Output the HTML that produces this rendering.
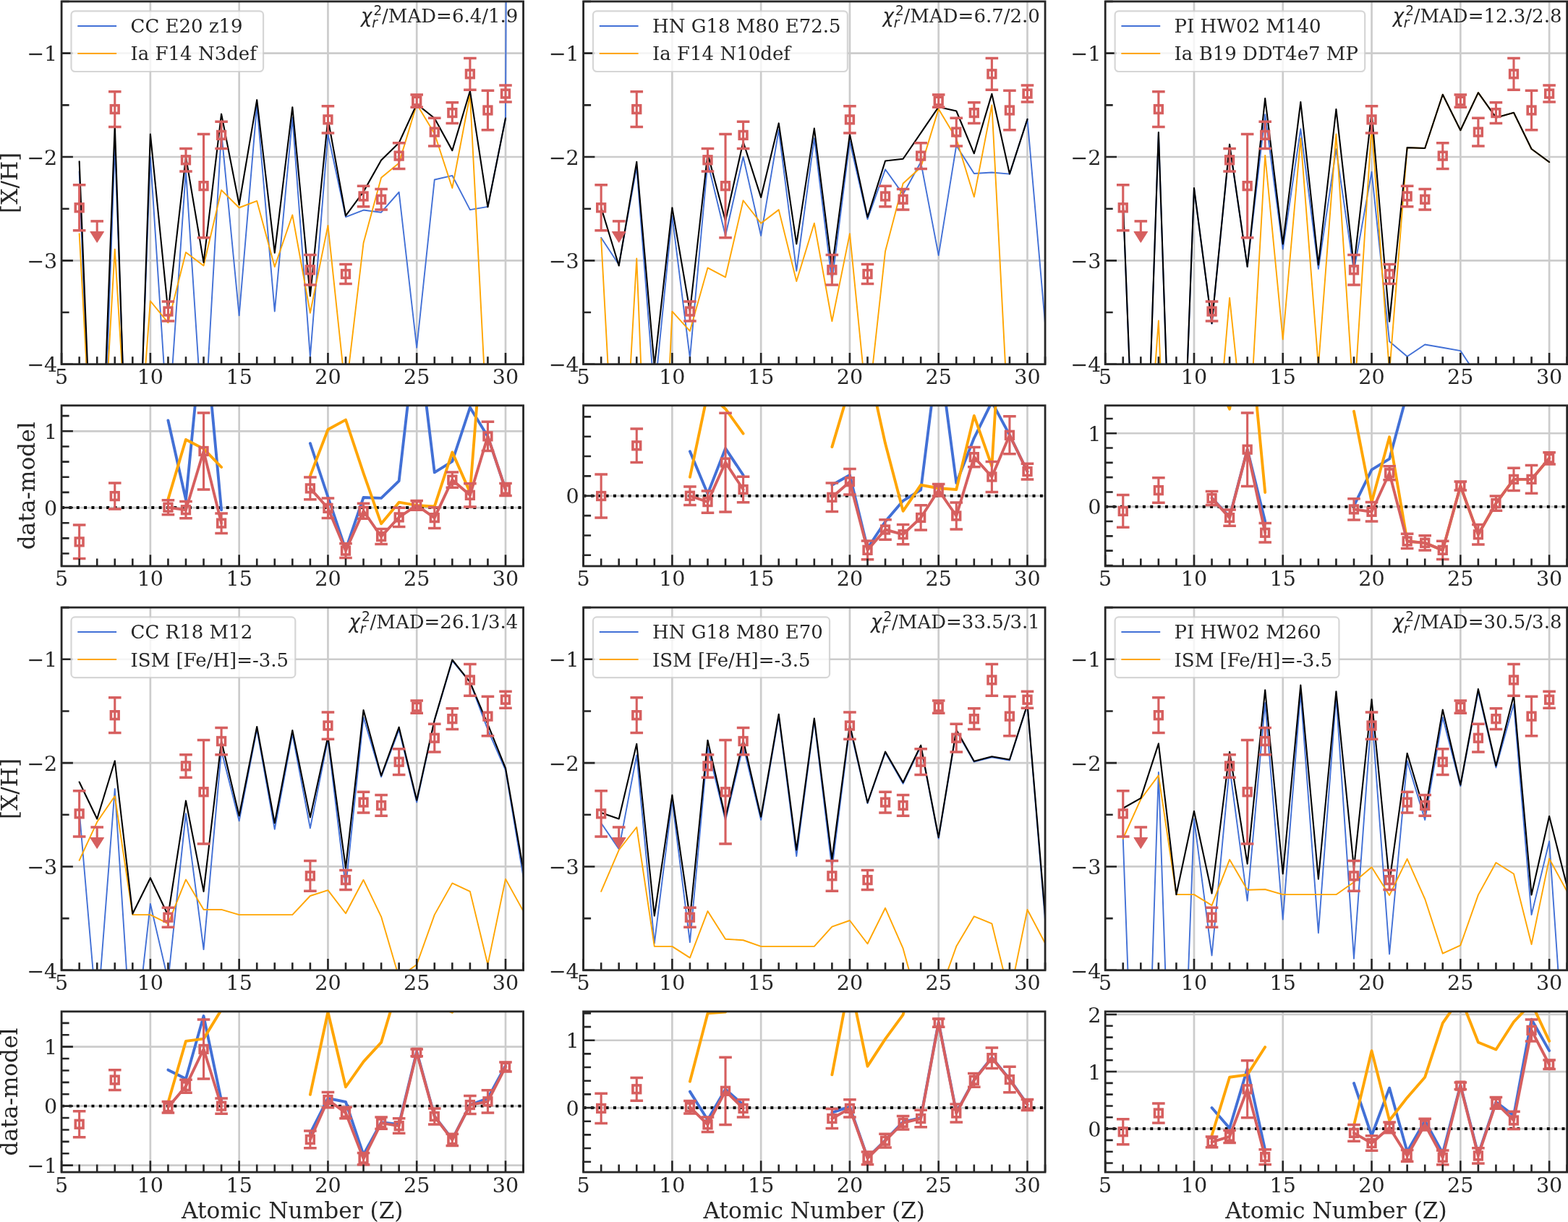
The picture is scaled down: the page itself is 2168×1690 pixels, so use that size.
<!DOCTYPE html>
<html><head><meta charset="utf-8"><title>Abundance fits</title><style>html,body{margin:0;padding:0;background:#fff;}svg{display:block;}</style></head><body>
<svg width="2168" height="1690" viewBox="0 0 2168 1690"><defs><clipPath id="c1"><rect x="85.1" y="2" width="638.46" height="501.7"/></clipPath><clipPath id="c2"><rect x="85.1" y="560.8" width="638.46" height="222.15"/></clipPath><clipPath id="c3"><rect x="806.6" y="2" width="638.46" height="501.7"/></clipPath><clipPath id="c4"><rect x="806.6" y="560.8" width="638.46" height="222.15"/></clipPath><clipPath id="c5"><rect x="1528.2" y="2" width="638.46" height="501.7"/></clipPath><clipPath id="c6"><rect x="1528.2" y="560.8" width="638.46" height="222.15"/></clipPath><clipPath id="c7"><rect x="85.1" y="840.1" width="638.46" height="501.7"/></clipPath><clipPath id="c8"><rect x="85.1" y="1398.9" width="638.46" height="222.15"/></clipPath><clipPath id="c9"><rect x="806.6" y="840.1" width="638.46" height="501.7"/></clipPath><clipPath id="c10"><rect x="806.6" y="1398.9" width="638.46" height="222.15"/></clipPath><clipPath id="c11"><rect x="1528.2" y="840.1" width="638.46" height="501.7"/></clipPath><clipPath id="c12"><rect x="1528.2" y="1398.9" width="638.46" height="222.15"/></clipPath></defs><rect width="2168" height="1690" fill="#fff"/><path d="M207.88 2V503.7M330.66 2V503.7M453.44 2V503.7M576.22 2V503.7M699 2V503.7M85.1 360.36H723.56M85.1 217.01H723.56M85.1 73.67H723.56" stroke="#cccccc" stroke-width="2.7" fill="none"/>
<path d="M109.66 237.08 L134.21 905.06 L158.77 200.53 L183.32 876.39 L207.88 217.01 L232.44 594.01 L256.99 236.22 L281.55 612.64 L306.1 182.61 L330.66 436.33 L355.22 145.34 L379.77 430.6 L404.33 162.54 L428.88 493.67 L453.44 185.48 L478 300.15 L502.55 290.55 L527.11 293.7 L551.66 265.75 L576.22 480.77 L600.78 248.55 L625.33 242.82 L649.89 290.12 L674.44 285.82 L699 163.55 L723.56 -5803.39" stroke="#4270d6" stroke-width="1.9" fill="none" stroke-linejoin="round" stroke-linecap="round" clip-path="url(#c1)"/>
<path d="M109.66 323.09 L134.21 774.62 L158.77 344.59 L183.32 747.38 L207.88 416.26 L232.44 446.36 L256.99 348.89 L281.55 367.52 L306.1 262.88 L330.66 287.25 L355.22 277.93 L379.77 368.96 L404.33 297.29 L428.88 432.75 L453.44 311.91 L478 543.55 L502.55 335.99 L527.11 245.68 L551.66 225.61 L576.22 143.91 L600.78 184.76 L625.33 260.02 L649.89 131.01 L674.44 608.34 L699 933.73" stroke="#ffa500" stroke-width="1.9" fill="none" stroke-linejoin="round" stroke-linecap="round" clip-path="url(#c1)"/>
<path d="M109.66 223.18 L134.21 833.39 L158.77 172.72 L183.32 919.39 L207.88 185.48 L232.44 431.03 L256.99 217.01 L281.55 362.94 L306.1 157.67 L330.66 282.95 L355.22 138.18 L379.77 349.61 L404.33 148.21 L428.88 409.38 L453.44 164.41 L478 298.29 L502.55 265.18 L527.11 221.6 L551.66 197.52 L576.22 143.91 L600.78 163.55 L625.33 208.13 L649.89 125.7 L674.44 286.25 L699 163.55" stroke="#000000" stroke-width="2.1" fill="none" stroke-linejoin="round" stroke-linecap="round" clip-path="url(#c1)"/>
<path d="M109.66 255.72V318.79" stroke="#d65f5f" stroke-width="3.1" fill="none" clip-path="url(#c1)"/>
<path d="M100.86 255.72h17.6M100.86 318.79h17.6" stroke="#d65f5f" stroke-width="3.5" fill="none" clip-path="url(#c1)"/>
<rect x="104.31" y="281.9" width="10.7" height="10.7" fill="none" stroke="#d65f5f" stroke-width="3.6" clip-path="url(#c1)"/>
<path d="M158.77 126.71V175.44" stroke="#d65f5f" stroke-width="3.1" fill="none" clip-path="url(#c1)"/>
<path d="M149.97 126.71h17.6M149.97 175.44h17.6" stroke="#d65f5f" stroke-width="3.5" fill="none" clip-path="url(#c1)"/>
<rect x="153.42" y="145.73" width="10.7" height="10.7" fill="none" stroke="#d65f5f" stroke-width="3.6" clip-path="url(#c1)"/>
<path d="M232.44 417.12V444.07" stroke="#d65f5f" stroke-width="3.1" fill="none" clip-path="url(#c1)"/>
<path d="M223.64 417.12h17.6M223.64 444.07h17.6" stroke="#d65f5f" stroke-width="3.5" fill="none" clip-path="url(#c1)"/>
<rect x="227.09" y="425.25" width="10.7" height="10.7" fill="none" stroke="#d65f5f" stroke-width="3.6" clip-path="url(#c1)"/>
<path d="M256.99 205.55V237.08" stroke="#d65f5f" stroke-width="3.1" fill="none" clip-path="url(#c1)"/>
<path d="M248.19 205.55h17.6M248.19 237.08h17.6" stroke="#d65f5f" stroke-width="3.5" fill="none" clip-path="url(#c1)"/>
<rect x="251.64" y="215.96" width="10.7" height="10.7" fill="none" stroke="#d65f5f" stroke-width="3.6" clip-path="url(#c1)"/>
<path d="M281.55 185.48V328.82" stroke="#d65f5f" stroke-width="3.1" fill="none" clip-path="url(#c1)"/>
<path d="M272.75 185.48h17.6M272.75 328.82h17.6" stroke="#d65f5f" stroke-width="3.5" fill="none" clip-path="url(#c1)"/>
<rect x="276.2" y="251.8" width="10.7" height="10.7" fill="none" stroke="#d65f5f" stroke-width="3.6" clip-path="url(#c1)"/>
<path d="M306.1 168.28V205.55" stroke="#d65f5f" stroke-width="3.1" fill="none" clip-path="url(#c1)"/>
<path d="M297.3 168.28h17.6M297.3 205.55h17.6" stroke="#d65f5f" stroke-width="3.5" fill="none" clip-path="url(#c1)"/>
<rect x="300.75" y="181.56" width="10.7" height="10.7" fill="none" stroke="#d65f5f" stroke-width="3.6" clip-path="url(#c1)"/>
<path d="M428.88 352.47V394.04" stroke="#d65f5f" stroke-width="3.1" fill="none" clip-path="url(#c1)"/>
<path d="M420.08 352.47h17.6M420.08 394.04h17.6" stroke="#d65f5f" stroke-width="3.5" fill="none" clip-path="url(#c1)"/>
<rect x="423.53" y="367.91" width="10.7" height="10.7" fill="none" stroke="#d65f5f" stroke-width="3.6" clip-path="url(#c1)"/>
<path d="M453.44 146.78V184.05" stroke="#d65f5f" stroke-width="3.1" fill="none" clip-path="url(#c1)"/>
<path d="M444.64 146.78h17.6M444.64 184.05h17.6" stroke="#d65f5f" stroke-width="3.5" fill="none" clip-path="url(#c1)"/>
<rect x="448.09" y="160.06" width="10.7" height="10.7" fill="none" stroke="#d65f5f" stroke-width="3.6" clip-path="url(#c1)"/>
<path d="M478 365.52V392.47" stroke="#d65f5f" stroke-width="3.1" fill="none" clip-path="url(#c1)"/>
<path d="M469.2 365.52h17.6M469.2 392.47h17.6" stroke="#d65f5f" stroke-width="3.5" fill="none" clip-path="url(#c1)"/>
<rect x="472.65" y="373.64" width="10.7" height="10.7" fill="none" stroke="#d65f5f" stroke-width="3.6" clip-path="url(#c1)"/>
<path d="M502.55 257.15V285.82" stroke="#d65f5f" stroke-width="3.1" fill="none" clip-path="url(#c1)"/>
<path d="M493.75 257.15h17.6M493.75 285.82h17.6" stroke="#d65f5f" stroke-width="3.5" fill="none" clip-path="url(#c1)"/>
<rect x="497.2" y="266.13" width="10.7" height="10.7" fill="none" stroke="#d65f5f" stroke-width="3.6" clip-path="url(#c1)"/>
<path d="M527.11 261.45V290.12" stroke="#d65f5f" stroke-width="3.1" fill="none" clip-path="url(#c1)"/>
<path d="M518.31 261.45h17.6M518.31 290.12h17.6" stroke="#d65f5f" stroke-width="3.5" fill="none" clip-path="url(#c1)"/>
<rect x="521.76" y="270.43" width="10.7" height="10.7" fill="none" stroke="#d65f5f" stroke-width="3.6" clip-path="url(#c1)"/>
<path d="M551.66 197.66V233.5" stroke="#d65f5f" stroke-width="3.1" fill="none" clip-path="url(#c1)"/>
<path d="M542.86 197.66h17.6M542.86 233.5h17.6" stroke="#d65f5f" stroke-width="3.5" fill="none" clip-path="url(#c1)"/>
<rect x="546.31" y="210.23" width="10.7" height="10.7" fill="none" stroke="#d65f5f" stroke-width="3.6" clip-path="url(#c1)"/>
<path d="M576.22 131.01V148.21" stroke="#d65f5f" stroke-width="3.1" fill="none" clip-path="url(#c1)"/>
<path d="M567.42 131.01h17.6M567.42 148.21h17.6" stroke="#d65f5f" stroke-width="3.5" fill="none" clip-path="url(#c1)"/>
<rect x="570.87" y="134.26" width="10.7" height="10.7" fill="none" stroke="#d65f5f" stroke-width="3.6" clip-path="url(#c1)"/>
<path d="M600.78 163.26V201.96" stroke="#d65f5f" stroke-width="3.1" fill="none" clip-path="url(#c1)"/>
<path d="M591.98 163.26h17.6M591.98 201.96h17.6" stroke="#d65f5f" stroke-width="3.5" fill="none" clip-path="url(#c1)"/>
<rect x="595.43" y="177.26" width="10.7" height="10.7" fill="none" stroke="#d65f5f" stroke-width="3.6" clip-path="url(#c1)"/>
<path d="M625.33 141.76V170.43" stroke="#d65f5f" stroke-width="3.1" fill="none" clip-path="url(#c1)"/>
<path d="M616.53 141.76h17.6M616.53 170.43h17.6" stroke="#d65f5f" stroke-width="3.5" fill="none" clip-path="url(#c1)"/>
<rect x="619.98" y="150.74" width="10.7" height="10.7" fill="none" stroke="#d65f5f" stroke-width="3.6" clip-path="url(#c1)"/>
<path d="M649.89 80.41V124.27" stroke="#d65f5f" stroke-width="3.1" fill="none" clip-path="url(#c1)"/>
<path d="M641.09 80.41h17.6M641.09 124.27h17.6" stroke="#d65f5f" stroke-width="3.5" fill="none" clip-path="url(#c1)"/>
<rect x="644.54" y="96.99" width="10.7" height="10.7" fill="none" stroke="#d65f5f" stroke-width="3.6" clip-path="url(#c1)"/>
<path d="M674.44 125.27V179.75" stroke="#d65f5f" stroke-width="3.1" fill="none" clip-path="url(#c1)"/>
<path d="M665.64 125.27h17.6M665.64 179.75h17.6" stroke="#d65f5f" stroke-width="3.5" fill="none" clip-path="url(#c1)"/>
<rect x="669.09" y="147.16" width="10.7" height="10.7" fill="none" stroke="#d65f5f" stroke-width="3.6" clip-path="url(#c1)"/>
<path d="M699 118.11V141.04" stroke="#d65f5f" stroke-width="3.1" fill="none" clip-path="url(#c1)"/>
<path d="M690.2 118.11h17.6M690.2 141.04h17.6" stroke="#d65f5f" stroke-width="3.5" fill="none" clip-path="url(#c1)"/>
<rect x="693.65" y="124.23" width="10.7" height="10.7" fill="none" stroke="#d65f5f" stroke-width="3.6" clip-path="url(#c1)"/>
<path d="M134.21 305.89V320.36" stroke="#d65f5f" stroke-width="3.1" fill="none"/>
<path d="M125.41 305.89h17.6" stroke="#d65f5f" stroke-width="3.5" fill="none"/>
<path d="M124.81 320.36L143.61 320.36L134.21 335.36Z" fill="#d65f5f" stroke="#d65f5f" stroke-width="1" stroke-linejoin="miter"/>
<path d="M85.1 503.7v-15.8M109.66 503.7v-10.5M134.21 503.7v-10.5M158.77 503.7v-10.5M183.32 503.7v-10.5M207.88 503.7v-15.8M232.44 503.7v-10.5M256.99 503.7v-10.5M281.55 503.7v-10.5M306.1 503.7v-10.5M330.66 503.7v-15.8M355.22 503.7v-10.5M379.77 503.7v-10.5M404.33 503.7v-10.5M428.88 503.7v-10.5M453.44 503.7v-15.8M478 503.7v-10.5M502.55 503.7v-10.5M527.11 503.7v-10.5M551.66 503.7v-10.5M576.22 503.7v-15.8M600.78 503.7v-10.5M625.33 503.7v-10.5M649.89 503.7v-10.5M674.44 503.7v-10.5M699 503.7v-15.8M723.56 503.7v-10.5M85.1 503.7h15.8M85.1 360.36h15.8M85.1 217.01h15.8M85.1 73.67h15.8M85.1 503.7h10.5M85.1 432.03h10.5M85.1 360.36h10.5M85.1 288.69h10.5M85.1 217.01h10.5M85.1 145.34h10.5M85.1 73.67h10.5M85.1 2h10.5" stroke="#262626" stroke-width="2.6" fill="none"/>
<rect x="85.1" y="2" width="638.46" height="501.7" fill="none" stroke="#262626" stroke-width="2.8"/>
<g font-family="'DejaVu Serif', serif" font-size="28.6" fill="#262626"><text x="85.1" y="531.2" text-anchor="middle">5</text><text x="207.88" y="531.2" text-anchor="middle">10</text><text x="330.66" y="531.2" text-anchor="middle">15</text><text x="453.44" y="531.2" text-anchor="middle">20</text><text x="576.22" y="531.2" text-anchor="middle">25</text><text x="699" y="531.2" text-anchor="middle">30</text><text x="79.3" y="514.4" text-anchor="end">−4</text><text x="79.3" y="371.06" text-anchor="end">−3</text><text x="79.3" y="227.71" text-anchor="end">−2</text><text x="79.3" y="84.37" text-anchor="end">−1</text></g>
<rect x="98.5" y="15.3" width="265.57" height="83.7" rx="5.2" ry="5.2" fill="#ffffff" fill-opacity="0.8" stroke="#cccccc" stroke-opacity="0.8" stroke-width="2.2"/>
<path d="M107.3 35.9H161.1" stroke="#4270d6" stroke-width="2.0"/>
<path d="M107.3 74H161.1" stroke="#ffa500" stroke-width="2.0"/>
<g font-family="'DejaVu Serif', serif" font-size="26.0" fill="#262626"><text x="180.5" y="45.2">CC E20 z19</text><text x="180.5" y="83.4">Ia F14 N3def</text></g>
<g fill="#262626">
<text x="499.11" y="30.6" font-family="'DejaVu Sans', sans-serif" font-style="italic" font-size="26">χ</text>
<text x="516.61" y="21.3" font-family="'DejaVu Sans', sans-serif" font-size="18.6">2</text>
<text x="514.31" y="37.5" font-family="'DejaVu Sans', sans-serif" font-style="italic" font-size="18.6">r</text>
<text x="528.11" y="30.6" font-family="'DejaVu Serif', serif" font-size="26">/MAD=6.4/1.9</text>
</g>
<path d="M207.88 560.8V782.95M330.66 560.8V782.95M453.44 560.8V782.95M576.22 560.8V782.95M699 560.8V782.95M85.1 702.06H723.56M85.1 596.29H723.56" stroke="#cccccc" stroke-width="2.7" fill="none"/>
<path d="M85.1 702.06H723.56" stroke="#000" stroke-width="3.9" stroke-dasharray="3.9 6.45" fill="none" clip-path="url(#c2)"/>
<path d="M232.44 581.48 L256.99 691.06 L281.55 439.74 L306.1 705.24" stroke="#4270d6" stroke-width="3.9" fill="none" stroke-linejoin="round" stroke-linecap="round" clip-path="url(#c2)"/>
<path d="M428.88 613.21 L453.44 687.25 L478 760.24 L502.55 688 L527.11 688.84 L551.66 665.04 L576.22 450.32 L600.78 653.41 L625.33 638.07 L649.89 563.5 L674.44 603.69 L699 676.99" stroke="#4270d6" stroke-width="3.9" fill="none" stroke-linejoin="round" stroke-linecap="round" clip-path="url(#c2)"/>
<path d="M232.44 690.43 L256.99 607.92 L281.55 620.62 L306.1 646" stroke="#ffa500" stroke-width="3.9" fill="none" stroke-linejoin="round" stroke-linecap="round" clip-path="url(#c2)"/>
<path d="M428.88 658.17 L453.44 593.96 L478 580.63 L502.55 654.46 L527.11 724.28 L551.66 694.66 L576.22 698.89 L600.78 700.48 L625.33 625.38 L649.89 680.91 L674.44 365.7 L699 108.66" stroke="#ffa500" stroke-width="3.9" fill="none" stroke-linejoin="round" stroke-linecap="round" clip-path="url(#c2)"/>
<path d="M232.44 701.75 L256.99 705.24 L281.55 624 L306.1 723.64" stroke="#d65f5f" stroke-width="3.9" fill="none" stroke-linejoin="round" stroke-linecap="round" clip-path="url(#c2)"/>
<path d="M428.88 675.41 L453.44 702.8 L478 761.62 L502.55 706.72 L527.11 742.05 L551.66 715.39 L576.22 698.89 L600.78 716.13 L625.33 663.67 L649.89 684.82 L674.44 603.37 L699 676.99" stroke="#d65f5f" stroke-width="3.9" fill="none" stroke-linejoin="round" stroke-linecap="round" clip-path="url(#c2)"/>
<path d="M109.66 726.07V772.62" stroke="#d65f5f" stroke-width="3.1" fill="none" clip-path="url(#c2)"/>
<path d="M100.86 726.07h17.6M100.86 772.62h17.6" stroke="#d65f5f" stroke-width="3.5" fill="none" clip-path="url(#c2)"/>
<rect x="104.31" y="744" width="10.7" height="10.7" fill="none" stroke="#d65f5f" stroke-width="3.6" clip-path="url(#c2)"/>
<path d="M158.77 668.11V704.07" stroke="#d65f5f" stroke-width="3.1" fill="none" clip-path="url(#c2)"/>
<path d="M149.97 668.11h17.6M149.97 704.07h17.6" stroke="#d65f5f" stroke-width="3.5" fill="none" clip-path="url(#c2)"/>
<rect x="153.42" y="680.74" width="10.7" height="10.7" fill="none" stroke="#d65f5f" stroke-width="3.6" clip-path="url(#c2)"/>
<path d="M232.44 691.8V711.69" stroke="#d65f5f" stroke-width="3.1" fill="none" clip-path="url(#c2)"/>
<path d="M223.64 691.8h17.6M223.64 711.69h17.6" stroke="#d65f5f" stroke-width="3.5" fill="none" clip-path="url(#c2)"/>
<rect x="227.09" y="696.4" width="10.7" height="10.7" fill="none" stroke="#d65f5f" stroke-width="3.6" clip-path="url(#c2)"/>
<path d="M256.99 693.6V716.87" stroke="#d65f5f" stroke-width="3.1" fill="none" clip-path="url(#c2)"/>
<path d="M248.19 693.6h17.6M248.19 716.87h17.6" stroke="#d65f5f" stroke-width="3.5" fill="none" clip-path="url(#c2)"/>
<rect x="251.64" y="699.89" width="10.7" height="10.7" fill="none" stroke="#d65f5f" stroke-width="3.6" clip-path="url(#c2)"/>
<path d="M281.55 571.11V676.89" stroke="#d65f5f" stroke-width="3.1" fill="none" clip-path="url(#c2)"/>
<path d="M272.75 571.11h17.6M272.75 676.89h17.6" stroke="#d65f5f" stroke-width="3.5" fill="none" clip-path="url(#c2)"/>
<rect x="276.2" y="618.65" width="10.7" height="10.7" fill="none" stroke="#d65f5f" stroke-width="3.6" clip-path="url(#c2)"/>
<path d="M306.1 709.89V737.39" stroke="#d65f5f" stroke-width="3.1" fill="none" clip-path="url(#c2)"/>
<path d="M297.3 709.89h17.6M297.3 737.39h17.6" stroke="#d65f5f" stroke-width="3.5" fill="none" clip-path="url(#c2)"/>
<rect x="300.75" y="718.29" width="10.7" height="10.7" fill="none" stroke="#d65f5f" stroke-width="3.6" clip-path="url(#c2)"/>
<path d="M428.88 660.07V690.75" stroke="#d65f5f" stroke-width="3.1" fill="none" clip-path="url(#c2)"/>
<path d="M420.08 660.07h17.6M420.08 690.75h17.6" stroke="#d65f5f" stroke-width="3.5" fill="none" clip-path="url(#c2)"/>
<rect x="423.53" y="670.06" width="10.7" height="10.7" fill="none" stroke="#d65f5f" stroke-width="3.6" clip-path="url(#c2)"/>
<path d="M453.44 689.05V716.55" stroke="#d65f5f" stroke-width="3.1" fill="none" clip-path="url(#c2)"/>
<path d="M444.64 689.05h17.6M444.64 716.55h17.6" stroke="#d65f5f" stroke-width="3.5" fill="none" clip-path="url(#c2)"/>
<rect x="448.09" y="697.45" width="10.7" height="10.7" fill="none" stroke="#d65f5f" stroke-width="3.6" clip-path="url(#c2)"/>
<path d="M478 751.67V771.56" stroke="#d65f5f" stroke-width="3.1" fill="none" clip-path="url(#c2)"/>
<path d="M469.2 751.67h17.6M469.2 771.56h17.6" stroke="#d65f5f" stroke-width="3.5" fill="none" clip-path="url(#c2)"/>
<rect x="472.65" y="756.27" width="10.7" height="10.7" fill="none" stroke="#d65f5f" stroke-width="3.6" clip-path="url(#c2)"/>
<path d="M502.55 696.14V717.3" stroke="#d65f5f" stroke-width="3.1" fill="none" clip-path="url(#c2)"/>
<path d="M493.75 696.14h17.6M493.75 717.3h17.6" stroke="#d65f5f" stroke-width="3.5" fill="none" clip-path="url(#c2)"/>
<rect x="497.2" y="701.37" width="10.7" height="10.7" fill="none" stroke="#d65f5f" stroke-width="3.6" clip-path="url(#c2)"/>
<path d="M527.11 731.47V752.62" stroke="#d65f5f" stroke-width="3.1" fill="none" clip-path="url(#c2)"/>
<path d="M518.31 731.47h17.6M518.31 752.62h17.6" stroke="#d65f5f" stroke-width="3.5" fill="none" clip-path="url(#c2)"/>
<rect x="521.76" y="736.7" width="10.7" height="10.7" fill="none" stroke="#d65f5f" stroke-width="3.6" clip-path="url(#c2)"/>
<path d="M551.66 702.17V728.61" stroke="#d65f5f" stroke-width="3.1" fill="none" clip-path="url(#c2)"/>
<path d="M542.86 702.17h17.6M542.86 728.61h17.6" stroke="#d65f5f" stroke-width="3.5" fill="none" clip-path="url(#c2)"/>
<rect x="546.31" y="710.04" width="10.7" height="10.7" fill="none" stroke="#d65f5f" stroke-width="3.6" clip-path="url(#c2)"/>
<path d="M576.22 692.54V705.24" stroke="#d65f5f" stroke-width="3.1" fill="none" clip-path="url(#c2)"/>
<path d="M567.42 692.54h17.6M567.42 705.24h17.6" stroke="#d65f5f" stroke-width="3.5" fill="none" clip-path="url(#c2)"/>
<rect x="570.87" y="693.54" width="10.7" height="10.7" fill="none" stroke="#d65f5f" stroke-width="3.6" clip-path="url(#c2)"/>
<path d="M600.78 701.85V730.41" stroke="#d65f5f" stroke-width="3.1" fill="none" clip-path="url(#c2)"/>
<path d="M591.98 701.85h17.6M591.98 730.41h17.6" stroke="#d65f5f" stroke-width="3.5" fill="none" clip-path="url(#c2)"/>
<rect x="595.43" y="710.78" width="10.7" height="10.7" fill="none" stroke="#d65f5f" stroke-width="3.6" clip-path="url(#c2)"/>
<path d="M625.33 653.09V674.24" stroke="#d65f5f" stroke-width="3.1" fill="none" clip-path="url(#c2)"/>
<path d="M616.53 653.09h17.6M616.53 674.24h17.6" stroke="#d65f5f" stroke-width="3.5" fill="none" clip-path="url(#c2)"/>
<rect x="619.98" y="658.32" width="10.7" height="10.7" fill="none" stroke="#d65f5f" stroke-width="3.6" clip-path="url(#c2)"/>
<path d="M649.89 668.64V701.01" stroke="#d65f5f" stroke-width="3.1" fill="none" clip-path="url(#c2)"/>
<path d="M641.09 668.64h17.6M641.09 701.01h17.6" stroke="#d65f5f" stroke-width="3.5" fill="none" clip-path="url(#c2)"/>
<rect x="644.54" y="679.47" width="10.7" height="10.7" fill="none" stroke="#d65f5f" stroke-width="3.6" clip-path="url(#c2)"/>
<path d="M674.44 583.28V623.47" stroke="#d65f5f" stroke-width="3.1" fill="none" clip-path="url(#c2)"/>
<path d="M665.64 583.28h17.6M665.64 623.47h17.6" stroke="#d65f5f" stroke-width="3.5" fill="none" clip-path="url(#c2)"/>
<rect x="669.09" y="598.02" width="10.7" height="10.7" fill="none" stroke="#d65f5f" stroke-width="3.6" clip-path="url(#c2)"/>
<path d="M699 668.53V685.46" stroke="#d65f5f" stroke-width="3.1" fill="none" clip-path="url(#c2)"/>
<path d="M690.2 668.53h17.6M690.2 685.46h17.6" stroke="#d65f5f" stroke-width="3.5" fill="none" clip-path="url(#c2)"/>
<rect x="693.65" y="671.64" width="10.7" height="10.7" fill="none" stroke="#d65f5f" stroke-width="3.6" clip-path="url(#c2)"/>
<path d="M85.1 782.95v-15.8M109.66 782.95v-10.5M134.21 782.95v-10.5M158.77 782.95v-10.5M183.32 782.95v-10.5M207.88 782.95v-15.8M232.44 782.95v-10.5M256.99 782.95v-10.5M281.55 782.95v-10.5M306.1 782.95v-10.5M330.66 782.95v-15.8M355.22 782.95v-10.5M379.77 782.95v-10.5M404.33 782.95v-10.5M428.88 782.95v-10.5M453.44 782.95v-15.8M478 782.95v-10.5M502.55 782.95v-10.5M527.11 782.95v-10.5M551.66 782.95v-10.5M576.22 782.95v-15.8M600.78 782.95v-10.5M625.33 782.95v-10.5M649.89 782.95v-10.5M674.44 782.95v-10.5M699 782.95v-15.8M723.56 782.95v-10.5M85.1 702.06h15.8M85.1 596.29h15.8M85.1 765.53h10.5M85.1 744.37h10.5M85.1 723.22h10.5M85.1 680.91h10.5M85.1 659.75h10.5M85.1 638.6h10.5M85.1 617.44h10.5M85.1 575.13h10.5" stroke="#262626" stroke-width="2.6" fill="none"/>
<rect x="85.1" y="560.8" width="638.46" height="222.15" fill="none" stroke="#262626" stroke-width="2.8"/>
<g font-family="'DejaVu Serif', serif" font-size="28.6" fill="#262626"><text x="85.1" y="810.45" text-anchor="middle">5</text><text x="207.88" y="810.45" text-anchor="middle">10</text><text x="330.66" y="810.45" text-anchor="middle">15</text><text x="453.44" y="810.45" text-anchor="middle">20</text><text x="576.22" y="810.45" text-anchor="middle">25</text><text x="699" y="810.45" text-anchor="middle">30</text><text x="79.3" y="712.76" text-anchor="end">0</text><text x="79.3" y="606.99" text-anchor="end">1</text></g>
<path d="M929.38 2V503.7M1052.16 2V503.7M1174.94 2V503.7M1297.72 2V503.7M1420.5 2V503.7M806.6 360.36H1445.06M806.6 217.01H1445.06M806.6 73.67H1445.06" stroke="#cccccc" stroke-width="2.7" fill="none"/>
<path d="M831.16 328.82 L855.71 366.09 L880.27 231.35 L904.82 546.7 L929.38 298.72 L953.94 495.1 L978.49 224.18 L1003.05 325.95 L1027.6 217.01 L1052.16 325.95 L1076.72 179.75 L1101.27 374.69 L1125.83 191.21 L1150.38 389.03 L1174.94 195.51 L1199.5 303.02 L1224.05 234.22 L1248.61 268.62 L1273.16 224.18 L1297.72 353.19 L1322.28 201.25 L1346.83 239.95 L1371.39 238.52 L1395.94 240.67 L1420.5 164.84 L1445.06 447.8" stroke="#4270d6" stroke-width="1.9" fill="none" stroke-linejoin="round" stroke-linecap="round" clip-path="url(#c3)"/>
<path d="M831.16 330.26 L855.71 786.09 L880.27 357.49 L904.82 966.7 L929.38 430.6 L953.94 457.83 L978.49 370.39 L1003.05 383.29 L1027.6 277.22 L1052.16 308.75 L1076.72 290.12 L1101.27 389.03 L1125.83 308.75 L1150.38 444.21 L1174.94 323.09 L1199.5 571.07 L1224.05 347.46 L1248.61 253.71 L1273.16 231.35 L1297.72 150.65 L1322.28 191.79 L1346.83 272.34 L1371.39 145.34 L1395.94 618.37 L1420.5 933.73" stroke="#ffa500" stroke-width="1.9" fill="none" stroke-linejoin="round" stroke-linecap="round" clip-path="url(#c3)"/>
<path d="M831.16 286.97 L855.71 367.52 L880.27 223.89 L904.82 506.57 L929.38 287.25 L953.94 430.6 L978.49 212.57 L1003.05 305.6 L1027.6 196.09 L1052.16 272.92 L1076.72 170.43 L1101.27 337.42 L1125.83 177.59 L1150.38 371.11 L1174.94 185.91 L1199.5 300.3 L1224.05 222.46 L1248.61 219.74 L1273.16 183.9 L1297.72 147.92 L1322.28 153.51 L1346.83 212.28 L1371.39 129.86 L1395.94 240.52 L1420.5 164.84" stroke="#000000" stroke-width="2.1" fill="none" stroke-linejoin="round" stroke-linecap="round" clip-path="url(#c3)"/>
<path d="M831.16 255.72V318.79" stroke="#d65f5f" stroke-width="3.1" fill="none" clip-path="url(#c3)"/>
<path d="M822.36 255.72h17.6M822.36 318.79h17.6" stroke="#d65f5f" stroke-width="3.5" fill="none" clip-path="url(#c3)"/>
<rect x="825.81" y="281.9" width="10.7" height="10.7" fill="none" stroke="#d65f5f" stroke-width="3.6" clip-path="url(#c3)"/>
<path d="M880.27 126.71V175.44" stroke="#d65f5f" stroke-width="3.1" fill="none" clip-path="url(#c3)"/>
<path d="M871.47 126.71h17.6M871.47 175.44h17.6" stroke="#d65f5f" stroke-width="3.5" fill="none" clip-path="url(#c3)"/>
<rect x="874.92" y="145.73" width="10.7" height="10.7" fill="none" stroke="#d65f5f" stroke-width="3.6" clip-path="url(#c3)"/>
<path d="M953.94 417.12V444.07" stroke="#d65f5f" stroke-width="3.1" fill="none" clip-path="url(#c3)"/>
<path d="M945.14 417.12h17.6M945.14 444.07h17.6" stroke="#d65f5f" stroke-width="3.5" fill="none" clip-path="url(#c3)"/>
<rect x="948.59" y="425.25" width="10.7" height="10.7" fill="none" stroke="#d65f5f" stroke-width="3.6" clip-path="url(#c3)"/>
<path d="M978.49 205.55V237.08" stroke="#d65f5f" stroke-width="3.1" fill="none" clip-path="url(#c3)"/>
<path d="M969.69 205.55h17.6M969.69 237.08h17.6" stroke="#d65f5f" stroke-width="3.5" fill="none" clip-path="url(#c3)"/>
<rect x="973.14" y="215.96" width="10.7" height="10.7" fill="none" stroke="#d65f5f" stroke-width="3.6" clip-path="url(#c3)"/>
<path d="M1003.05 185.48V328.82" stroke="#d65f5f" stroke-width="3.1" fill="none" clip-path="url(#c3)"/>
<path d="M994.25 185.48h17.6M994.25 328.82h17.6" stroke="#d65f5f" stroke-width="3.5" fill="none" clip-path="url(#c3)"/>
<rect x="997.7" y="251.8" width="10.7" height="10.7" fill="none" stroke="#d65f5f" stroke-width="3.6" clip-path="url(#c3)"/>
<path d="M1027.6 168.28V205.55" stroke="#d65f5f" stroke-width="3.1" fill="none" clip-path="url(#c3)"/>
<path d="M1018.8 168.28h17.6M1018.8 205.55h17.6" stroke="#d65f5f" stroke-width="3.5" fill="none" clip-path="url(#c3)"/>
<rect x="1022.25" y="181.56" width="10.7" height="10.7" fill="none" stroke="#d65f5f" stroke-width="3.6" clip-path="url(#c3)"/>
<path d="M1150.38 352.47V394.04" stroke="#d65f5f" stroke-width="3.1" fill="none" clip-path="url(#c3)"/>
<path d="M1141.58 352.47h17.6M1141.58 394.04h17.6" stroke="#d65f5f" stroke-width="3.5" fill="none" clip-path="url(#c3)"/>
<rect x="1145.03" y="367.91" width="10.7" height="10.7" fill="none" stroke="#d65f5f" stroke-width="3.6" clip-path="url(#c3)"/>
<path d="M1174.94 146.78V184.05" stroke="#d65f5f" stroke-width="3.1" fill="none" clip-path="url(#c3)"/>
<path d="M1166.14 146.78h17.6M1166.14 184.05h17.6" stroke="#d65f5f" stroke-width="3.5" fill="none" clip-path="url(#c3)"/>
<rect x="1169.59" y="160.06" width="10.7" height="10.7" fill="none" stroke="#d65f5f" stroke-width="3.6" clip-path="url(#c3)"/>
<path d="M1199.5 365.52V392.47" stroke="#d65f5f" stroke-width="3.1" fill="none" clip-path="url(#c3)"/>
<path d="M1190.7 365.52h17.6M1190.7 392.47h17.6" stroke="#d65f5f" stroke-width="3.5" fill="none" clip-path="url(#c3)"/>
<rect x="1194.15" y="373.64" width="10.7" height="10.7" fill="none" stroke="#d65f5f" stroke-width="3.6" clip-path="url(#c3)"/>
<path d="M1224.05 257.15V285.82" stroke="#d65f5f" stroke-width="3.1" fill="none" clip-path="url(#c3)"/>
<path d="M1215.25 257.15h17.6M1215.25 285.82h17.6" stroke="#d65f5f" stroke-width="3.5" fill="none" clip-path="url(#c3)"/>
<rect x="1218.7" y="266.13" width="10.7" height="10.7" fill="none" stroke="#d65f5f" stroke-width="3.6" clip-path="url(#c3)"/>
<path d="M1248.61 261.45V290.12" stroke="#d65f5f" stroke-width="3.1" fill="none" clip-path="url(#c3)"/>
<path d="M1239.81 261.45h17.6M1239.81 290.12h17.6" stroke="#d65f5f" stroke-width="3.5" fill="none" clip-path="url(#c3)"/>
<rect x="1243.26" y="270.43" width="10.7" height="10.7" fill="none" stroke="#d65f5f" stroke-width="3.6" clip-path="url(#c3)"/>
<path d="M1273.16 197.66V233.5" stroke="#d65f5f" stroke-width="3.1" fill="none" clip-path="url(#c3)"/>
<path d="M1264.36 197.66h17.6M1264.36 233.5h17.6" stroke="#d65f5f" stroke-width="3.5" fill="none" clip-path="url(#c3)"/>
<rect x="1267.81" y="210.23" width="10.7" height="10.7" fill="none" stroke="#d65f5f" stroke-width="3.6" clip-path="url(#c3)"/>
<path d="M1297.72 131.01V148.21" stroke="#d65f5f" stroke-width="3.1" fill="none" clip-path="url(#c3)"/>
<path d="M1288.92 131.01h17.6M1288.92 148.21h17.6" stroke="#d65f5f" stroke-width="3.5" fill="none" clip-path="url(#c3)"/>
<rect x="1292.37" y="134.26" width="10.7" height="10.7" fill="none" stroke="#d65f5f" stroke-width="3.6" clip-path="url(#c3)"/>
<path d="M1322.28 163.26V201.96" stroke="#d65f5f" stroke-width="3.1" fill="none" clip-path="url(#c3)"/>
<path d="M1313.48 163.26h17.6M1313.48 201.96h17.6" stroke="#d65f5f" stroke-width="3.5" fill="none" clip-path="url(#c3)"/>
<rect x="1316.93" y="177.26" width="10.7" height="10.7" fill="none" stroke="#d65f5f" stroke-width="3.6" clip-path="url(#c3)"/>
<path d="M1346.83 141.76V170.43" stroke="#d65f5f" stroke-width="3.1" fill="none" clip-path="url(#c3)"/>
<path d="M1338.03 141.76h17.6M1338.03 170.43h17.6" stroke="#d65f5f" stroke-width="3.5" fill="none" clip-path="url(#c3)"/>
<rect x="1341.48" y="150.74" width="10.7" height="10.7" fill="none" stroke="#d65f5f" stroke-width="3.6" clip-path="url(#c3)"/>
<path d="M1371.39 80.41V124.27" stroke="#d65f5f" stroke-width="3.1" fill="none" clip-path="url(#c3)"/>
<path d="M1362.59 80.41h17.6M1362.59 124.27h17.6" stroke="#d65f5f" stroke-width="3.5" fill="none" clip-path="url(#c3)"/>
<rect x="1366.04" y="96.99" width="10.7" height="10.7" fill="none" stroke="#d65f5f" stroke-width="3.6" clip-path="url(#c3)"/>
<path d="M1395.94 125.27V179.75" stroke="#d65f5f" stroke-width="3.1" fill="none" clip-path="url(#c3)"/>
<path d="M1387.14 125.27h17.6M1387.14 179.75h17.6" stroke="#d65f5f" stroke-width="3.5" fill="none" clip-path="url(#c3)"/>
<rect x="1390.59" y="147.16" width="10.7" height="10.7" fill="none" stroke="#d65f5f" stroke-width="3.6" clip-path="url(#c3)"/>
<path d="M1420.5 118.11V141.04" stroke="#d65f5f" stroke-width="3.1" fill="none" clip-path="url(#c3)"/>
<path d="M1411.7 118.11h17.6M1411.7 141.04h17.6" stroke="#d65f5f" stroke-width="3.5" fill="none" clip-path="url(#c3)"/>
<rect x="1415.15" y="124.23" width="10.7" height="10.7" fill="none" stroke="#d65f5f" stroke-width="3.6" clip-path="url(#c3)"/>
<path d="M855.71 305.89V320.36" stroke="#d65f5f" stroke-width="3.1" fill="none"/>
<path d="M846.91 305.89h17.6" stroke="#d65f5f" stroke-width="3.5" fill="none"/>
<path d="M846.31 320.36L865.11 320.36L855.71 335.36Z" fill="#d65f5f" stroke="#d65f5f" stroke-width="1" stroke-linejoin="miter"/>
<path d="M806.6 503.7v-15.8M831.16 503.7v-10.5M855.71 503.7v-10.5M880.27 503.7v-10.5M904.82 503.7v-10.5M929.38 503.7v-15.8M953.94 503.7v-10.5M978.49 503.7v-10.5M1003.05 503.7v-10.5M1027.6 503.7v-10.5M1052.16 503.7v-15.8M1076.72 503.7v-10.5M1101.27 503.7v-10.5M1125.83 503.7v-10.5M1150.38 503.7v-10.5M1174.94 503.7v-15.8M1199.5 503.7v-10.5M1224.05 503.7v-10.5M1248.61 503.7v-10.5M1273.16 503.7v-10.5M1297.72 503.7v-15.8M1322.28 503.7v-10.5M1346.83 503.7v-10.5M1371.39 503.7v-10.5M1395.94 503.7v-10.5M1420.5 503.7v-15.8M1445.06 503.7v-10.5M806.6 503.7h15.8M806.6 360.36h15.8M806.6 217.01h15.8M806.6 73.67h15.8M806.6 503.7h10.5M806.6 432.03h10.5M806.6 360.36h10.5M806.6 288.69h10.5M806.6 217.01h10.5M806.6 145.34h10.5M806.6 73.67h10.5M806.6 2h10.5" stroke="#262626" stroke-width="2.6" fill="none"/>
<rect x="806.6" y="2" width="638.46" height="501.7" fill="none" stroke="#262626" stroke-width="2.8"/>
<g font-family="'DejaVu Serif', serif" font-size="28.6" fill="#262626"><text x="806.6" y="531.2" text-anchor="middle">5</text><text x="929.38" y="531.2" text-anchor="middle">10</text><text x="1052.16" y="531.2" text-anchor="middle">15</text><text x="1174.94" y="531.2" text-anchor="middle">20</text><text x="1297.72" y="531.2" text-anchor="middle">25</text><text x="1420.5" y="531.2" text-anchor="middle">30</text><text x="800.8" y="514.4" text-anchor="end">−4</text><text x="800.8" y="371.06" text-anchor="end">−3</text><text x="800.8" y="227.71" text-anchor="end">−2</text><text x="800.8" y="84.37" text-anchor="end">−1</text></g>
<rect x="820" y="15.3" width="351.86" height="83.7" rx="5.2" ry="5.2" fill="#ffffff" fill-opacity="0.8" stroke="#cccccc" stroke-opacity="0.8" stroke-width="2.2"/>
<path d="M828.8 35.9H882.6" stroke="#4270d6" stroke-width="2.0"/>
<path d="M828.8 74H882.6" stroke="#ffa500" stroke-width="2.0"/>
<g font-family="'DejaVu Serif', serif" font-size="26.0" fill="#262626"><text x="902" y="45.2">HN G18 M80 E72.5</text><text x="902" y="83.4">Ia F14 N10def</text></g>
<g fill="#262626">
<text x="1220.61" y="30.6" font-family="'DejaVu Sans', sans-serif" font-style="italic" font-size="26">χ</text>
<text x="1238.11" y="21.3" font-family="'DejaVu Sans', sans-serif" font-size="18.6">2</text>
<text x="1235.81" y="37.5" font-family="'DejaVu Sans', sans-serif" font-style="italic" font-size="18.6">r</text>
<text x="1249.61" y="30.6" font-family="'DejaVu Serif', serif" font-size="26">/MAD=6.7/2.0</text>
</g>
<path d="M929.38 560.8V782.95M1052.16 560.8V782.95M1174.94 560.8V782.95M1297.72 560.8V782.95M1420.5 560.8V782.95M806.6 685.75H1445.06" stroke="#cccccc" stroke-width="2.7" fill="none"/>
<path d="M806.6 685.75H1445.06" stroke="#000" stroke-width="3.9" stroke-dasharray="3.9 6.45" fill="none" clip-path="url(#c4)"/>
<path d="M953.94 624.23 L978.49 683.02 L1003.05 620.13 L1027.6 657.04" stroke="#4270d6" stroke-width="3.9" fill="none" stroke-linejoin="round" stroke-linecap="round" clip-path="url(#c4)"/>
<path d="M1150.38 670.71 L1174.94 657.04 L1199.5 758.21 L1224.05 721.29 L1248.61 692.59 L1273.16 677.55 L1297.72 482.06 L1322.28 667.98 L1346.83 605.78 L1371.39 555.88 L1395.94 601.68 L1420.5 652.12" stroke="#4270d6" stroke-width="3.9" fill="none" stroke-linejoin="round" stroke-linecap="round" clip-path="url(#c4)"/>
<path d="M953.94 659.78 L978.49 543.57 L1003.05 565.45 L1027.6 599.62" stroke="#ffa500" stroke-width="3.9" fill="none" stroke-linejoin="round" stroke-linecap="round" clip-path="url(#c4)"/>
<path d="M1150.38 618.08 L1174.94 535.37 L1199.5 502.56 L1224.05 613.3 L1248.61 706.8 L1273.16 670.71 L1297.72 675.22 L1322.28 677 L1346.83 574.88 L1371.39 644.74 L1395.94 241.45 L1420.5 -81.18" stroke="#ffa500" stroke-width="3.9" fill="none" stroke-linejoin="round" stroke-linecap="round" clip-path="url(#c4)"/>
<path d="M953.94 685.75 L978.49 694.09 L1003.05 639.54 L1027.6 677" stroke="#d65f5f" stroke-width="3.9" fill="none" stroke-linejoin="round" stroke-linecap="round" clip-path="url(#c4)"/>
<path d="M1150.38 687.8 L1174.94 666.2 L1199.5 760.8 L1224.05 732.5 L1248.61 739.2 L1273.16 715.96 L1297.72 677.82 L1322.28 713.5 L1346.83 632.16 L1371.39 659.5 L1395.94 601.81 L1420.5 652.12" stroke="#d65f5f" stroke-width="3.9" fill="none" stroke-linejoin="round" stroke-linecap="round" clip-path="url(#c4)"/>
<path d="M831.16 655.95V716.1" stroke="#d65f5f" stroke-width="3.1" fill="none" clip-path="url(#c4)"/>
<path d="M822.36 655.95h17.6M822.36 716.1h17.6" stroke="#d65f5f" stroke-width="3.5" fill="none" clip-path="url(#c4)"/>
<rect x="825.81" y="680.67" width="10.7" height="10.7" fill="none" stroke="#d65f5f" stroke-width="3.6" clip-path="url(#c4)"/>
<path d="M880.27 593.06V639.54" stroke="#d65f5f" stroke-width="3.1" fill="none" clip-path="url(#c4)"/>
<path d="M871.47 593.06h17.6M871.47 639.54h17.6" stroke="#d65f5f" stroke-width="3.5" fill="none" clip-path="url(#c4)"/>
<rect x="874.92" y="610.95" width="10.7" height="10.7" fill="none" stroke="#d65f5f" stroke-width="3.6" clip-path="url(#c4)"/>
<path d="M953.94 672.9V698.6" stroke="#d65f5f" stroke-width="3.1" fill="none" clip-path="url(#c4)"/>
<path d="M945.14 672.9h17.6M945.14 698.6h17.6" stroke="#d65f5f" stroke-width="3.5" fill="none" clip-path="url(#c4)"/>
<rect x="948.59" y="680.4" width="10.7" height="10.7" fill="none" stroke="#d65f5f" stroke-width="3.6" clip-path="url(#c4)"/>
<path d="M978.49 679.05V709.13" stroke="#d65f5f" stroke-width="3.1" fill="none" clip-path="url(#c4)"/>
<path d="M969.69 679.05h17.6M969.69 709.13h17.6" stroke="#d65f5f" stroke-width="3.5" fill="none" clip-path="url(#c4)"/>
<rect x="973.14" y="688.74" width="10.7" height="10.7" fill="none" stroke="#d65f5f" stroke-width="3.6" clip-path="url(#c4)"/>
<path d="M1003.05 571.19V707.9" stroke="#d65f5f" stroke-width="3.1" fill="none" clip-path="url(#c4)"/>
<path d="M994.25 571.19h17.6M994.25 707.9h17.6" stroke="#d65f5f" stroke-width="3.5" fill="none" clip-path="url(#c4)"/>
<rect x="997.7" y="634.19" width="10.7" height="10.7" fill="none" stroke="#d65f5f" stroke-width="3.6" clip-path="url(#c4)"/>
<path d="M1027.6 659.23V694.77" stroke="#d65f5f" stroke-width="3.1" fill="none" clip-path="url(#c4)"/>
<path d="M1018.8 659.23h17.6M1018.8 694.77h17.6" stroke="#d65f5f" stroke-width="3.5" fill="none" clip-path="url(#c4)"/>
<rect x="1022.25" y="671.65" width="10.7" height="10.7" fill="none" stroke="#d65f5f" stroke-width="3.6" clip-path="url(#c4)"/>
<path d="M1150.38 667.98V707.62" stroke="#d65f5f" stroke-width="3.1" fill="none" clip-path="url(#c4)"/>
<path d="M1141.58 667.98h17.6M1141.58 707.62h17.6" stroke="#d65f5f" stroke-width="3.5" fill="none" clip-path="url(#c4)"/>
<rect x="1145.03" y="682.45" width="10.7" height="10.7" fill="none" stroke="#d65f5f" stroke-width="3.6" clip-path="url(#c4)"/>
<path d="M1174.94 648.43V683.97" stroke="#d65f5f" stroke-width="3.1" fill="none" clip-path="url(#c4)"/>
<path d="M1166.14 648.43h17.6M1166.14 683.97h17.6" stroke="#d65f5f" stroke-width="3.5" fill="none" clip-path="url(#c4)"/>
<rect x="1169.59" y="660.85" width="10.7" height="10.7" fill="none" stroke="#d65f5f" stroke-width="3.6" clip-path="url(#c4)"/>
<path d="M1199.5 747.95V773.65" stroke="#d65f5f" stroke-width="3.1" fill="none" clip-path="url(#c4)"/>
<path d="M1190.7 747.95h17.6M1190.7 773.65h17.6" stroke="#d65f5f" stroke-width="3.5" fill="none" clip-path="url(#c4)"/>
<rect x="1194.15" y="755.45" width="10.7" height="10.7" fill="none" stroke="#d65f5f" stroke-width="3.6" clip-path="url(#c4)"/>
<path d="M1224.05 718.83V746.18" stroke="#d65f5f" stroke-width="3.1" fill="none" clip-path="url(#c4)"/>
<path d="M1215.25 718.83h17.6M1215.25 746.18h17.6" stroke="#d65f5f" stroke-width="3.5" fill="none" clip-path="url(#c4)"/>
<rect x="1218.7" y="727.15" width="10.7" height="10.7" fill="none" stroke="#d65f5f" stroke-width="3.6" clip-path="url(#c4)"/>
<path d="M1248.61 725.53V752.87" stroke="#d65f5f" stroke-width="3.1" fill="none" clip-path="url(#c4)"/>
<path d="M1239.81 725.53h17.6M1239.81 752.87h17.6" stroke="#d65f5f" stroke-width="3.5" fill="none" clip-path="url(#c4)"/>
<rect x="1243.26" y="733.85" width="10.7" height="10.7" fill="none" stroke="#d65f5f" stroke-width="3.6" clip-path="url(#c4)"/>
<path d="M1273.16 698.87V733.05" stroke="#d65f5f" stroke-width="3.1" fill="none" clip-path="url(#c4)"/>
<path d="M1264.36 698.87h17.6M1264.36 733.05h17.6" stroke="#d65f5f" stroke-width="3.5" fill="none" clip-path="url(#c4)"/>
<rect x="1267.81" y="710.61" width="10.7" height="10.7" fill="none" stroke="#d65f5f" stroke-width="3.6" clip-path="url(#c4)"/>
<path d="M1297.72 669.62V686.02" stroke="#d65f5f" stroke-width="3.1" fill="none" clip-path="url(#c4)"/>
<path d="M1288.92 669.62h17.6M1288.92 686.02h17.6" stroke="#d65f5f" stroke-width="3.5" fill="none" clip-path="url(#c4)"/>
<rect x="1292.37" y="672.47" width="10.7" height="10.7" fill="none" stroke="#d65f5f" stroke-width="3.6" clip-path="url(#c4)"/>
<path d="M1322.28 695.05V731.96" stroke="#d65f5f" stroke-width="3.1" fill="none" clip-path="url(#c4)"/>
<path d="M1313.48 695.05h17.6M1313.48 731.96h17.6" stroke="#d65f5f" stroke-width="3.5" fill="none" clip-path="url(#c4)"/>
<rect x="1316.93" y="708.15" width="10.7" height="10.7" fill="none" stroke="#d65f5f" stroke-width="3.6" clip-path="url(#c4)"/>
<path d="M1346.83 618.49V645.83" stroke="#d65f5f" stroke-width="3.1" fill="none" clip-path="url(#c4)"/>
<path d="M1338.03 618.49h17.6M1338.03 645.83h17.6" stroke="#d65f5f" stroke-width="3.5" fill="none" clip-path="url(#c4)"/>
<rect x="1341.48" y="626.81" width="10.7" height="10.7" fill="none" stroke="#d65f5f" stroke-width="3.6" clip-path="url(#c4)"/>
<path d="M1371.39 638.59V680.42" stroke="#d65f5f" stroke-width="3.1" fill="none" clip-path="url(#c4)"/>
<path d="M1362.59 638.59h17.6M1362.59 680.42h17.6" stroke="#d65f5f" stroke-width="3.5" fill="none" clip-path="url(#c4)"/>
<rect x="1366.04" y="654.15" width="10.7" height="10.7" fill="none" stroke="#d65f5f" stroke-width="3.6" clip-path="url(#c4)"/>
<path d="M1395.94 575.84V627.79" stroke="#d65f5f" stroke-width="3.1" fill="none" clip-path="url(#c4)"/>
<path d="M1387.14 575.84h17.6M1387.14 627.79h17.6" stroke="#d65f5f" stroke-width="3.5" fill="none" clip-path="url(#c4)"/>
<rect x="1390.59" y="596.46" width="10.7" height="10.7" fill="none" stroke="#d65f5f" stroke-width="3.6" clip-path="url(#c4)"/>
<path d="M1420.5 641.18V663.06" stroke="#d65f5f" stroke-width="3.1" fill="none" clip-path="url(#c4)"/>
<path d="M1411.7 641.18h17.6M1411.7 663.06h17.6" stroke="#d65f5f" stroke-width="3.5" fill="none" clip-path="url(#c4)"/>
<rect x="1415.15" y="646.77" width="10.7" height="10.7" fill="none" stroke="#d65f5f" stroke-width="3.6" clip-path="url(#c4)"/>
<path d="M806.6 782.95v-15.8M831.16 782.95v-10.5M855.71 782.95v-10.5M880.27 782.95v-10.5M904.82 782.95v-10.5M929.38 782.95v-15.8M953.94 782.95v-10.5M978.49 782.95v-10.5M1003.05 782.95v-10.5M1027.6 782.95v-10.5M1052.16 782.95v-15.8M1076.72 782.95v-10.5M1101.27 782.95v-10.5M1125.83 782.95v-10.5M1150.38 782.95v-10.5M1174.94 782.95v-15.8M1199.5 782.95v-10.5M1224.05 782.95v-10.5M1248.61 782.95v-10.5M1273.16 782.95v-10.5M1297.72 782.95v-15.8M1322.28 782.95v-10.5M1346.83 782.95v-10.5M1371.39 782.95v-10.5M1395.94 782.95v-10.5M1420.5 782.95v-15.8M1445.06 782.95v-10.5M806.6 685.75h15.8M806.6 767.78h10.5M806.6 740.43h10.5M806.6 713.09h10.5M806.6 658.41h10.5M806.6 631.07h10.5M806.6 603.73h10.5M806.6 576.38h10.5" stroke="#262626" stroke-width="2.6" fill="none"/>
<rect x="806.6" y="560.8" width="638.46" height="222.15" fill="none" stroke="#262626" stroke-width="2.8"/>
<g font-family="'DejaVu Serif', serif" font-size="28.6" fill="#262626"><text x="806.6" y="810.45" text-anchor="middle">5</text><text x="929.38" y="810.45" text-anchor="middle">10</text><text x="1052.16" y="810.45" text-anchor="middle">15</text><text x="1174.94" y="810.45" text-anchor="middle">20</text><text x="1297.72" y="810.45" text-anchor="middle">25</text><text x="1420.5" y="810.45" text-anchor="middle">30</text><text x="800.8" y="696.45" text-anchor="end">0</text></g>
<path d="M1650.98 2V503.7M1773.76 2V503.7M1896.54 2V503.7M2019.32 2V503.7M2142.1 2V503.7M1528.2 360.36H2166.66M1528.2 217.01H2166.66M1528.2 73.67H2166.66" stroke="#cccccc" stroke-width="2.7" fill="none"/>
<path d="M1552.76 279.37 L1577.31 905.06 L1601.87 183.47 L1626.42 919.39 L1650.98 260.73 L1675.54 447.8 L1700.09 201.25 L1724.65 368.96 L1749.2 158.24 L1773.76 344.59 L1798.32 178.31 L1822.87 371.82 L1847.43 206.26 L1871.98 374.69 L1896.54 237.66 L1921.1 472.31 L1945.65 492.95 L1970.21 476.46 L1994.76 480.77 L2019.32 485.07 L2043.88 522.33 L2068.43 790.39 L2092.99 790.39 L2117.54 790.39 L2142.1 790.39 L2166.66 790.39" stroke="#4270d6" stroke-width="1.9" fill="none" stroke-linejoin="round" stroke-linecap="round" clip-path="url(#c5)"/>
<path d="M1552.76 933.73 L1577.31 777.48 L1601.87 443.5 L1626.42 1045.54 L1650.98 933.73 L1675.54 698.65 L1700.09 411.96 L1724.65 647.04 L1749.2 214.86 L1773.76 469.3 L1798.32 191.21 L1822.87 506.57 L1847.43 185.48 L1871.98 559.6 L1896.54 174.3 L1921.1 515.17 L1945.65 204.11 L1970.21 204.97 L1994.76 130.72 L2019.32 180.18 L2043.88 128.14 L2068.43 162.69 L2092.99 155.81 L2117.54 205.98 L2142.1 224.18" stroke="#ffa500" stroke-width="1.9" fill="none" stroke-linejoin="round" stroke-linecap="round" clip-path="url(#c5)"/>
<path d="M1552.76 278.51 L1577.31 903.63 L1601.87 183.04 L1626.42 912.23 L1650.98 260.02 L1675.54 447.08 L1700.09 199.67 L1724.65 368.81 L1749.2 136.03 L1773.76 337.42 L1798.32 141.04 L1822.87 366.09 L1847.43 151.08 L1871.98 368.1 L1896.54 155.52 L1921.1 444.64 L1945.65 204.11 L1970.21 204.97 L1994.76 130.72 L2019.32 180.18 L2043.88 128.14 L2068.43 162.69 L2092.99 155.81 L2117.54 205.98 L2142.1 224.18" stroke="#000000" stroke-width="2.1" fill="none" stroke-linejoin="round" stroke-linecap="round" clip-path="url(#c5)"/>
<path d="M1552.76 255.72V318.79" stroke="#d65f5f" stroke-width="3.1" fill="none" clip-path="url(#c5)"/>
<path d="M1543.96 255.72h17.6M1543.96 318.79h17.6" stroke="#d65f5f" stroke-width="3.5" fill="none" clip-path="url(#c5)"/>
<rect x="1547.41" y="281.9" width="10.7" height="10.7" fill="none" stroke="#d65f5f" stroke-width="3.6" clip-path="url(#c5)"/>
<path d="M1601.87 126.71V175.44" stroke="#d65f5f" stroke-width="3.1" fill="none" clip-path="url(#c5)"/>
<path d="M1593.07 126.71h17.6M1593.07 175.44h17.6" stroke="#d65f5f" stroke-width="3.5" fill="none" clip-path="url(#c5)"/>
<rect x="1596.52" y="145.73" width="10.7" height="10.7" fill="none" stroke="#d65f5f" stroke-width="3.6" clip-path="url(#c5)"/>
<path d="M1675.54 417.12V444.07" stroke="#d65f5f" stroke-width="3.1" fill="none" clip-path="url(#c5)"/>
<path d="M1666.74 417.12h17.6M1666.74 444.07h17.6" stroke="#d65f5f" stroke-width="3.5" fill="none" clip-path="url(#c5)"/>
<rect x="1670.19" y="425.25" width="10.7" height="10.7" fill="none" stroke="#d65f5f" stroke-width="3.6" clip-path="url(#c5)"/>
<path d="M1700.09 205.55V237.08" stroke="#d65f5f" stroke-width="3.1" fill="none" clip-path="url(#c5)"/>
<path d="M1691.29 205.55h17.6M1691.29 237.08h17.6" stroke="#d65f5f" stroke-width="3.5" fill="none" clip-path="url(#c5)"/>
<rect x="1694.74" y="215.96" width="10.7" height="10.7" fill="none" stroke="#d65f5f" stroke-width="3.6" clip-path="url(#c5)"/>
<path d="M1724.65 185.48V328.82" stroke="#d65f5f" stroke-width="3.1" fill="none" clip-path="url(#c5)"/>
<path d="M1715.85 185.48h17.6M1715.85 328.82h17.6" stroke="#d65f5f" stroke-width="3.5" fill="none" clip-path="url(#c5)"/>
<rect x="1719.3" y="251.8" width="10.7" height="10.7" fill="none" stroke="#d65f5f" stroke-width="3.6" clip-path="url(#c5)"/>
<path d="M1749.2 168.28V205.55" stroke="#d65f5f" stroke-width="3.1" fill="none" clip-path="url(#c5)"/>
<path d="M1740.4 168.28h17.6M1740.4 205.55h17.6" stroke="#d65f5f" stroke-width="3.5" fill="none" clip-path="url(#c5)"/>
<rect x="1743.85" y="181.56" width="10.7" height="10.7" fill="none" stroke="#d65f5f" stroke-width="3.6" clip-path="url(#c5)"/>
<path d="M1871.98 352.47V394.04" stroke="#d65f5f" stroke-width="3.1" fill="none" clip-path="url(#c5)"/>
<path d="M1863.18 352.47h17.6M1863.18 394.04h17.6" stroke="#d65f5f" stroke-width="3.5" fill="none" clip-path="url(#c5)"/>
<rect x="1866.63" y="367.91" width="10.7" height="10.7" fill="none" stroke="#d65f5f" stroke-width="3.6" clip-path="url(#c5)"/>
<path d="M1896.54 146.78V184.05" stroke="#d65f5f" stroke-width="3.1" fill="none" clip-path="url(#c5)"/>
<path d="M1887.74 146.78h17.6M1887.74 184.05h17.6" stroke="#d65f5f" stroke-width="3.5" fill="none" clip-path="url(#c5)"/>
<rect x="1891.19" y="160.06" width="10.7" height="10.7" fill="none" stroke="#d65f5f" stroke-width="3.6" clip-path="url(#c5)"/>
<path d="M1921.1 365.52V392.47" stroke="#d65f5f" stroke-width="3.1" fill="none" clip-path="url(#c5)"/>
<path d="M1912.3 365.52h17.6M1912.3 392.47h17.6" stroke="#d65f5f" stroke-width="3.5" fill="none" clip-path="url(#c5)"/>
<rect x="1915.75" y="373.64" width="10.7" height="10.7" fill="none" stroke="#d65f5f" stroke-width="3.6" clip-path="url(#c5)"/>
<path d="M1945.65 257.15V285.82" stroke="#d65f5f" stroke-width="3.1" fill="none" clip-path="url(#c5)"/>
<path d="M1936.85 257.15h17.6M1936.85 285.82h17.6" stroke="#d65f5f" stroke-width="3.5" fill="none" clip-path="url(#c5)"/>
<rect x="1940.3" y="266.13" width="10.7" height="10.7" fill="none" stroke="#d65f5f" stroke-width="3.6" clip-path="url(#c5)"/>
<path d="M1970.21 261.45V290.12" stroke="#d65f5f" stroke-width="3.1" fill="none" clip-path="url(#c5)"/>
<path d="M1961.41 261.45h17.6M1961.41 290.12h17.6" stroke="#d65f5f" stroke-width="3.5" fill="none" clip-path="url(#c5)"/>
<rect x="1964.86" y="270.43" width="10.7" height="10.7" fill="none" stroke="#d65f5f" stroke-width="3.6" clip-path="url(#c5)"/>
<path d="M1994.76 197.66V233.5" stroke="#d65f5f" stroke-width="3.1" fill="none" clip-path="url(#c5)"/>
<path d="M1985.96 197.66h17.6M1985.96 233.5h17.6" stroke="#d65f5f" stroke-width="3.5" fill="none" clip-path="url(#c5)"/>
<rect x="1989.41" y="210.23" width="10.7" height="10.7" fill="none" stroke="#d65f5f" stroke-width="3.6" clip-path="url(#c5)"/>
<path d="M2019.32 131.01V148.21" stroke="#d65f5f" stroke-width="3.1" fill="none" clip-path="url(#c5)"/>
<path d="M2010.52 131.01h17.6M2010.52 148.21h17.6" stroke="#d65f5f" stroke-width="3.5" fill="none" clip-path="url(#c5)"/>
<rect x="2013.97" y="134.26" width="10.7" height="10.7" fill="none" stroke="#d65f5f" stroke-width="3.6" clip-path="url(#c5)"/>
<path d="M2043.88 163.26V201.96" stroke="#d65f5f" stroke-width="3.1" fill="none" clip-path="url(#c5)"/>
<path d="M2035.08 163.26h17.6M2035.08 201.96h17.6" stroke="#d65f5f" stroke-width="3.5" fill="none" clip-path="url(#c5)"/>
<rect x="2038.53" y="177.26" width="10.7" height="10.7" fill="none" stroke="#d65f5f" stroke-width="3.6" clip-path="url(#c5)"/>
<path d="M2068.43 141.76V170.43" stroke="#d65f5f" stroke-width="3.1" fill="none" clip-path="url(#c5)"/>
<path d="M2059.63 141.76h17.6M2059.63 170.43h17.6" stroke="#d65f5f" stroke-width="3.5" fill="none" clip-path="url(#c5)"/>
<rect x="2063.08" y="150.74" width="10.7" height="10.7" fill="none" stroke="#d65f5f" stroke-width="3.6" clip-path="url(#c5)"/>
<path d="M2092.99 80.41V124.27" stroke="#d65f5f" stroke-width="3.1" fill="none" clip-path="url(#c5)"/>
<path d="M2084.19 80.41h17.6M2084.19 124.27h17.6" stroke="#d65f5f" stroke-width="3.5" fill="none" clip-path="url(#c5)"/>
<rect x="2087.64" y="96.99" width="10.7" height="10.7" fill="none" stroke="#d65f5f" stroke-width="3.6" clip-path="url(#c5)"/>
<path d="M2117.54 125.27V179.75" stroke="#d65f5f" stroke-width="3.1" fill="none" clip-path="url(#c5)"/>
<path d="M2108.74 125.27h17.6M2108.74 179.75h17.6" stroke="#d65f5f" stroke-width="3.5" fill="none" clip-path="url(#c5)"/>
<rect x="2112.19" y="147.16" width="10.7" height="10.7" fill="none" stroke="#d65f5f" stroke-width="3.6" clip-path="url(#c5)"/>
<path d="M2142.1 118.11V141.04" stroke="#d65f5f" stroke-width="3.1" fill="none" clip-path="url(#c5)"/>
<path d="M2133.3 118.11h17.6M2133.3 141.04h17.6" stroke="#d65f5f" stroke-width="3.5" fill="none" clip-path="url(#c5)"/>
<rect x="2136.75" y="124.23" width="10.7" height="10.7" fill="none" stroke="#d65f5f" stroke-width="3.6" clip-path="url(#c5)"/>
<path d="M1577.31 305.89V320.36" stroke="#d65f5f" stroke-width="3.1" fill="none"/>
<path d="M1568.51 305.89h17.6" stroke="#d65f5f" stroke-width="3.5" fill="none"/>
<path d="M1567.91 320.36L1586.71 320.36L1577.31 335.36Z" fill="#d65f5f" stroke="#d65f5f" stroke-width="1" stroke-linejoin="miter"/>
<path d="M1528.2 503.7v-15.8M1552.76 503.7v-10.5M1577.31 503.7v-10.5M1601.87 503.7v-10.5M1626.42 503.7v-10.5M1650.98 503.7v-15.8M1675.54 503.7v-10.5M1700.09 503.7v-10.5M1724.65 503.7v-10.5M1749.2 503.7v-10.5M1773.76 503.7v-15.8M1798.32 503.7v-10.5M1822.87 503.7v-10.5M1847.43 503.7v-10.5M1871.98 503.7v-10.5M1896.54 503.7v-15.8M1921.1 503.7v-10.5M1945.65 503.7v-10.5M1970.21 503.7v-10.5M1994.76 503.7v-10.5M2019.32 503.7v-15.8M2043.88 503.7v-10.5M2068.43 503.7v-10.5M2092.99 503.7v-10.5M2117.54 503.7v-10.5M2142.1 503.7v-15.8M2166.66 503.7v-10.5M1528.2 503.7h15.8M1528.2 360.36h15.8M1528.2 217.01h15.8M1528.2 73.67h15.8M1528.2 503.7h10.5M1528.2 432.03h10.5M1528.2 360.36h10.5M1528.2 288.69h10.5M1528.2 217.01h10.5M1528.2 145.34h10.5M1528.2 73.67h10.5M1528.2 2h10.5" stroke="#262626" stroke-width="2.6" fill="none"/>
<rect x="1528.2" y="2" width="638.46" height="501.7" fill="none" stroke="#262626" stroke-width="2.8"/>
<g font-family="'DejaVu Serif', serif" font-size="28.6" fill="#262626"><text x="1528.2" y="531.2" text-anchor="middle">5</text><text x="1650.98" y="531.2" text-anchor="middle">10</text><text x="1773.76" y="531.2" text-anchor="middle">15</text><text x="1896.54" y="531.2" text-anchor="middle">20</text><text x="2019.32" y="531.2" text-anchor="middle">25</text><text x="2142.1" y="531.2" text-anchor="middle">30</text><text x="1522.4" y="514.4" text-anchor="end">−4</text><text x="1522.4" y="371.06" text-anchor="end">−3</text><text x="1522.4" y="227.71" text-anchor="end">−2</text><text x="1522.4" y="84.37" text-anchor="end">−1</text></g>
<rect x="1541.6" y="15.3" width="345.59" height="83.7" rx="5.2" ry="5.2" fill="#ffffff" fill-opacity="0.8" stroke="#cccccc" stroke-opacity="0.8" stroke-width="2.2"/>
<path d="M1550.4 35.9H1604.2" stroke="#4270d6" stroke-width="2.0"/>
<path d="M1550.4 74H1604.2" stroke="#ffa500" stroke-width="2.0"/>
<g font-family="'DejaVu Serif', serif" font-size="26.0" fill="#262626"><text x="1623.6" y="45.2">PI HW02 M140</text><text x="1623.6" y="83.4">Ia B19 DDT4e7 MP</text></g>
<g fill="#262626">
<text x="1925.66" y="30.6" font-family="'DejaVu Sans', sans-serif" font-style="italic" font-size="26">χ</text>
<text x="1943.16" y="21.3" font-family="'DejaVu Sans', sans-serif" font-size="18.6">2</text>
<text x="1940.86" y="37.5" font-family="'DejaVu Sans', sans-serif" font-style="italic" font-size="18.6">r</text>
<text x="1954.66" y="30.6" font-family="'DejaVu Serif', serif" font-size="26">/MAD=12.3/2.8</text>
</g>
<path d="M1650.98 560.8V782.95M1773.76 560.8V782.95M1896.54 560.8V782.95M2019.32 560.8V782.95M2142.1 560.8V782.95M1528.2 700.75H2166.66M1528.2 599.26H2166.66" stroke="#cccccc" stroke-width="2.7" fill="none"/>
<path d="M1528.2 700.75H2166.66" stroke="#000" stroke-width="3.9" stroke-dasharray="3.9 6.45" fill="none" clip-path="url(#c6)"/>
<path d="M1675.54 688.57 L1700.09 714.96 L1724.65 621.59 L1749.2 721.04" stroke="#4270d6" stroke-width="3.9" fill="none" stroke-linejoin="round" stroke-linecap="round" clip-path="url(#c6)"/>
<path d="M1871.98 699.73 L1896.54 649.6 L1921.1 634.68 L1945.65 543.95 L1970.21 558.67 L1994.76 513 L2019.32 456.17 L2043.88 460.23 L2068.43 251.68 L2092.99 213.62 L2117.54 249.14 L2142.1 232.9" stroke="#4270d6" stroke-width="3.9" fill="none" stroke-linejoin="round" stroke-linecap="round" clip-path="url(#c6)"/>
<path d="M1675.54 510.97 L1700.09 565.77 L1724.65 424.71 L1749.2 680.96" stroke="#ffa500" stroke-width="3.9" fill="none" stroke-linejoin="round" stroke-linecap="round" clip-path="url(#c6)"/>
<path d="M1871.98 568.82 L1896.54 694.46 L1921.1 604.34 L1945.65 748.45 L1970.21 750.88 L1994.76 760.83 L2019.32 672.03 L2043.88 739.31 L2068.43 696.08 L2092.99 662.89 L2117.54 662.89 L2142.1 633.77" stroke="#ffa500" stroke-width="3.9" fill="none" stroke-linejoin="round" stroke-linecap="round" clip-path="url(#c6)"/>
<path d="M1675.54 689.08 L1700.09 716.07 L1724.65 621.69 L1749.2 736.77" stroke="#d65f5f" stroke-width="3.9" fill="none" stroke-linejoin="round" stroke-linecap="round" clip-path="url(#c6)"/>
<path d="M1871.98 704.4 L1896.54 707.75 L1921.1 654.27 L1945.65 748.45 L1970.21 750.88 L1994.76 760.83 L2019.32 672.03 L2043.88 739.31 L2068.43 696.08 L2092.99 662.89 L2117.54 662.89 L2142.1 633.77" stroke="#d65f5f" stroke-width="3.9" fill="none" stroke-linejoin="round" stroke-linecap="round" clip-path="url(#c6)"/>
<path d="M1552.76 684.61V729.26" stroke="#d65f5f" stroke-width="3.1" fill="none" clip-path="url(#c6)"/>
<path d="M1543.96 684.61h17.6M1543.96 729.26h17.6" stroke="#d65f5f" stroke-width="3.5" fill="none" clip-path="url(#c6)"/>
<rect x="1547.41" y="701.59" width="10.7" height="10.7" fill="none" stroke="#d65f5f" stroke-width="3.6" clip-path="url(#c6)"/>
<path d="M1601.87 660.86V695.37" stroke="#d65f5f" stroke-width="3.1" fill="none" clip-path="url(#c6)"/>
<path d="M1593.07 660.86h17.6M1593.07 695.37h17.6" stroke="#d65f5f" stroke-width="3.5" fill="none" clip-path="url(#c6)"/>
<rect x="1596.52" y="672.77" width="10.7" height="10.7" fill="none" stroke="#d65f5f" stroke-width="3.6" clip-path="url(#c6)"/>
<path d="M1675.54 679.54V698.62" stroke="#d65f5f" stroke-width="3.1" fill="none" clip-path="url(#c6)"/>
<path d="M1666.74 679.54h17.6M1666.74 698.62h17.6" stroke="#d65f5f" stroke-width="3.5" fill="none" clip-path="url(#c6)"/>
<rect x="1670.19" y="683.73" width="10.7" height="10.7" fill="none" stroke="#d65f5f" stroke-width="3.6" clip-path="url(#c6)"/>
<path d="M1700.09 704.91V727.23" stroke="#d65f5f" stroke-width="3.1" fill="none" clip-path="url(#c6)"/>
<path d="M1691.29 704.91h17.6M1691.29 727.23h17.6" stroke="#d65f5f" stroke-width="3.5" fill="none" clip-path="url(#c6)"/>
<rect x="1694.74" y="710.72" width="10.7" height="10.7" fill="none" stroke="#d65f5f" stroke-width="3.6" clip-path="url(#c6)"/>
<path d="M1724.65 570.95V672.43" stroke="#d65f5f" stroke-width="3.1" fill="none" clip-path="url(#c6)"/>
<path d="M1715.85 570.95h17.6M1715.85 672.43h17.6" stroke="#d65f5f" stroke-width="3.5" fill="none" clip-path="url(#c6)"/>
<rect x="1719.3" y="616.34" width="10.7" height="10.7" fill="none" stroke="#d65f5f" stroke-width="3.6" clip-path="url(#c6)"/>
<path d="M1749.2 723.58V749.97" stroke="#d65f5f" stroke-width="3.1" fill="none" clip-path="url(#c6)"/>
<path d="M1740.4 723.58h17.6M1740.4 749.97h17.6" stroke="#d65f5f" stroke-width="3.5" fill="none" clip-path="url(#c6)"/>
<rect x="1743.85" y="731.42" width="10.7" height="10.7" fill="none" stroke="#d65f5f" stroke-width="3.6" clip-path="url(#c6)"/>
<path d="M1871.98 689.69V719.12" stroke="#d65f5f" stroke-width="3.1" fill="none" clip-path="url(#c6)"/>
<path d="M1863.18 689.69h17.6M1863.18 719.12h17.6" stroke="#d65f5f" stroke-width="3.5" fill="none" clip-path="url(#c6)"/>
<rect x="1866.63" y="699.05" width="10.7" height="10.7" fill="none" stroke="#d65f5f" stroke-width="3.6" clip-path="url(#c6)"/>
<path d="M1896.54 694.56V720.94" stroke="#d65f5f" stroke-width="3.1" fill="none" clip-path="url(#c6)"/>
<path d="M1887.74 694.56h17.6M1887.74 720.94h17.6" stroke="#d65f5f" stroke-width="3.5" fill="none" clip-path="url(#c6)"/>
<rect x="1891.19" y="702.4" width="10.7" height="10.7" fill="none" stroke="#d65f5f" stroke-width="3.6" clip-path="url(#c6)"/>
<path d="M1921.1 644.73V663.81" stroke="#d65f5f" stroke-width="3.1" fill="none" clip-path="url(#c6)"/>
<path d="M1912.3 644.73h17.6M1912.3 663.81h17.6" stroke="#d65f5f" stroke-width="3.5" fill="none" clip-path="url(#c6)"/>
<rect x="1915.75" y="648.92" width="10.7" height="10.7" fill="none" stroke="#d65f5f" stroke-width="3.6" clip-path="url(#c6)"/>
<path d="M1945.65 738.3V758.59" stroke="#d65f5f" stroke-width="3.1" fill="none" clip-path="url(#c6)"/>
<path d="M1936.85 738.3h17.6M1936.85 758.59h17.6" stroke="#d65f5f" stroke-width="3.5" fill="none" clip-path="url(#c6)"/>
<rect x="1940.3" y="743.1" width="10.7" height="10.7" fill="none" stroke="#d65f5f" stroke-width="3.6" clip-path="url(#c6)"/>
<path d="M1970.21 740.73V761.03" stroke="#d65f5f" stroke-width="3.1" fill="none" clip-path="url(#c6)"/>
<path d="M1961.41 740.73h17.6M1961.41 761.03h17.6" stroke="#d65f5f" stroke-width="3.5" fill="none" clip-path="url(#c6)"/>
<rect x="1964.86" y="745.53" width="10.7" height="10.7" fill="none" stroke="#d65f5f" stroke-width="3.6" clip-path="url(#c6)"/>
<path d="M1994.76 748.14V773.51" stroke="#d65f5f" stroke-width="3.1" fill="none" clip-path="url(#c6)"/>
<path d="M1985.96 748.14h17.6M1985.96 773.51h17.6" stroke="#d65f5f" stroke-width="3.5" fill="none" clip-path="url(#c6)"/>
<rect x="1989.41" y="755.48" width="10.7" height="10.7" fill="none" stroke="#d65f5f" stroke-width="3.6" clip-path="url(#c6)"/>
<path d="M2019.32 665.94V678.12" stroke="#d65f5f" stroke-width="3.1" fill="none" clip-path="url(#c6)"/>
<path d="M2010.52 665.94h17.6M2010.52 678.12h17.6" stroke="#d65f5f" stroke-width="3.5" fill="none" clip-path="url(#c6)"/>
<rect x="2013.97" y="666.68" width="10.7" height="10.7" fill="none" stroke="#d65f5f" stroke-width="3.6" clip-path="url(#c6)"/>
<path d="M2043.88 725.61V753.01" stroke="#d65f5f" stroke-width="3.1" fill="none" clip-path="url(#c6)"/>
<path d="M2035.08 725.61h17.6M2035.08 753.01h17.6" stroke="#d65f5f" stroke-width="3.5" fill="none" clip-path="url(#c6)"/>
<rect x="2038.53" y="733.96" width="10.7" height="10.7" fill="none" stroke="#d65f5f" stroke-width="3.6" clip-path="url(#c6)"/>
<path d="M2068.43 685.93V706.23" stroke="#d65f5f" stroke-width="3.1" fill="none" clip-path="url(#c6)"/>
<path d="M2059.63 685.93h17.6M2059.63 706.23h17.6" stroke="#d65f5f" stroke-width="3.5" fill="none" clip-path="url(#c6)"/>
<rect x="2063.08" y="690.73" width="10.7" height="10.7" fill="none" stroke="#d65f5f" stroke-width="3.6" clip-path="url(#c6)"/>
<path d="M2092.99 647.37V678.42" stroke="#d65f5f" stroke-width="3.1" fill="none" clip-path="url(#c6)"/>
<path d="M2084.19 647.37h17.6M2084.19 678.42h17.6" stroke="#d65f5f" stroke-width="3.5" fill="none" clip-path="url(#c6)"/>
<rect x="2087.64" y="657.54" width="10.7" height="10.7" fill="none" stroke="#d65f5f" stroke-width="3.6" clip-path="url(#c6)"/>
<path d="M2117.54 643.61V682.18" stroke="#d65f5f" stroke-width="3.1" fill="none" clip-path="url(#c6)"/>
<path d="M2108.74 643.61h17.6M2108.74 682.18h17.6" stroke="#d65f5f" stroke-width="3.5" fill="none" clip-path="url(#c6)"/>
<rect x="2112.19" y="657.54" width="10.7" height="10.7" fill="none" stroke="#d65f5f" stroke-width="3.6" clip-path="url(#c6)"/>
<path d="M2142.1 625.65V641.89" stroke="#d65f5f" stroke-width="3.1" fill="none" clip-path="url(#c6)"/>
<path d="M2133.3 625.65h17.6M2133.3 641.89h17.6" stroke="#d65f5f" stroke-width="3.5" fill="none" clip-path="url(#c6)"/>
<rect x="2136.75" y="628.42" width="10.7" height="10.7" fill="none" stroke="#d65f5f" stroke-width="3.6" clip-path="url(#c6)"/>
<path d="M1528.2 782.95v-15.8M1552.76 782.95v-10.5M1577.31 782.95v-10.5M1601.87 782.95v-10.5M1626.42 782.95v-10.5M1650.98 782.95v-15.8M1675.54 782.95v-10.5M1700.09 782.95v-10.5M1724.65 782.95v-10.5M1749.2 782.95v-10.5M1773.76 782.95v-15.8M1798.32 782.95v-10.5M1822.87 782.95v-10.5M1847.43 782.95v-10.5M1871.98 782.95v-10.5M1896.54 782.95v-15.8M1921.1 782.95v-10.5M1945.65 782.95v-10.5M1970.21 782.95v-10.5M1994.76 782.95v-10.5M2019.32 782.95v-15.8M2043.88 782.95v-10.5M2068.43 782.95v-10.5M2092.99 782.95v-10.5M2117.54 782.95v-10.5M2142.1 782.95v-15.8M2166.66 782.95v-10.5M1528.2 700.75h15.8M1528.2 599.26h15.8M1528.2 781.94h10.5M1528.2 761.64h10.5M1528.2 741.34h10.5M1528.2 721.04h10.5M1528.2 680.45h10.5M1528.2 660.15h10.5M1528.2 639.86h10.5M1528.2 619.56h10.5M1528.2 578.97h10.5" stroke="#262626" stroke-width="2.6" fill="none"/>
<rect x="1528.2" y="560.8" width="638.46" height="222.15" fill="none" stroke="#262626" stroke-width="2.8"/>
<g font-family="'DejaVu Serif', serif" font-size="28.6" fill="#262626"><text x="1528.2" y="810.45" text-anchor="middle">5</text><text x="1650.98" y="810.45" text-anchor="middle">10</text><text x="1773.76" y="810.45" text-anchor="middle">15</text><text x="1896.54" y="810.45" text-anchor="middle">20</text><text x="2019.32" y="810.45" text-anchor="middle">25</text><text x="2142.1" y="810.45" text-anchor="middle">30</text><text x="1522.4" y="711.45" text-anchor="end">0</text><text x="1522.4" y="609.96" text-anchor="end">1</text></g>
<path d="M207.88 840.1V1341.8M330.66 840.1V1341.8M453.44 840.1V1341.8M576.22 840.1V1341.8M699 840.1V1341.8M85.1 1198.46H723.56M85.1 1055.11H723.56M85.1 911.77H723.56" stroke="#cccccc" stroke-width="2.7" fill="none"/>
<path d="M109.66 1121.77 L134.21 1407.74 L158.77 1090.95 L183.32 1470.81 L207.88 1250.06 L232.44 1356.13 L256.99 1125.21 L281.55 1313.13 L306.1 1037.91 L330.66 1135.39 L355.22 1008.53 L379.77 1146.85 L404.33 1014.98 L428.88 1145.42 L453.44 1022.15 L478 1227.13 L502.55 992.04 L527.11 1074.47 L551.66 1009.24 L576.22 1109.58 L600.78 996.34 L625.33 913.92 L649.89 943.31 L674.44 1009.24 L699 1065.15 L723.56 1212.79" stroke="#4270d6" stroke-width="1.9" fill="none" stroke-linejoin="round" stroke-linecap="round" clip-path="url(#c7)"/>
<path d="M109.66 1189.86 L134.21 1136.82 L158.77 1100.98 L183.32 1265.11 L207.88 1265.11 L232.44 1277.3 L256.99 1216.38 L281.55 1257.94 L306.1 1257.94 L330.66 1265.11 L355.22 1265.11 L379.77 1265.11 L404.33 1265.11 L428.88 1239.02 L453.44 1231.14 L478 1263.25 L502.55 1216.81 L527.11 1267.84 L551.66 1351.83 L576.22 1333.92 L600.78 1265.11 L625.33 1221.39 L649.89 1232.86 L674.44 1333.92 L699 1215.66 L723.56 1260.09" stroke="#ffa500" stroke-width="1.9" fill="none" stroke-linejoin="round" stroke-linecap="round" clip-path="url(#c7)"/>
<path d="M109.66 1081.49 L134.21 1132.52 L158.77 1052.25 L183.32 1263.68 L207.88 1214.22 L232.44 1265.97 L256.99 1107.43 L281.55 1232.86 L306.1 1025.01 L330.66 1128.22 L355.22 1004.94 L379.77 1138.25 L404.33 1009.96 L428.88 1130.37 L453.44 1018.56 L478 1200.61 L502.55 982.01 L527.11 1072.75 L551.66 1005.66 L576.22 1106.72 L600.78 995.63 L625.33 912.49 L649.89 943.31 L674.44 1001.65 L699 1062.28 L723.56 1202.76" stroke="#000000" stroke-width="2.1" fill="none" stroke-linejoin="round" stroke-linecap="round" clip-path="url(#c7)"/>
<path d="M109.66 1093.82V1156.89" stroke="#d65f5f" stroke-width="3.1" fill="none" clip-path="url(#c7)"/>
<path d="M100.86 1093.82h17.6M100.86 1156.89h17.6" stroke="#d65f5f" stroke-width="3.5" fill="none" clip-path="url(#c7)"/>
<rect x="104.31" y="1120" width="10.7" height="10.7" fill="none" stroke="#d65f5f" stroke-width="3.6" clip-path="url(#c7)"/>
<path d="M158.77 964.81V1013.54" stroke="#d65f5f" stroke-width="3.1" fill="none" clip-path="url(#c7)"/>
<path d="M149.97 964.81h17.6M149.97 1013.54h17.6" stroke="#d65f5f" stroke-width="3.5" fill="none" clip-path="url(#c7)"/>
<rect x="153.42" y="983.83" width="10.7" height="10.7" fill="none" stroke="#d65f5f" stroke-width="3.6" clip-path="url(#c7)"/>
<path d="M232.44 1255.22V1282.17" stroke="#d65f5f" stroke-width="3.1" fill="none" clip-path="url(#c7)"/>
<path d="M223.64 1255.22h17.6M223.64 1282.17h17.6" stroke="#d65f5f" stroke-width="3.5" fill="none" clip-path="url(#c7)"/>
<rect x="227.09" y="1263.35" width="10.7" height="10.7" fill="none" stroke="#d65f5f" stroke-width="3.6" clip-path="url(#c7)"/>
<path d="M256.99 1043.65V1075.18" stroke="#d65f5f" stroke-width="3.1" fill="none" clip-path="url(#c7)"/>
<path d="M248.19 1043.65h17.6M248.19 1075.18h17.6" stroke="#d65f5f" stroke-width="3.5" fill="none" clip-path="url(#c7)"/>
<rect x="251.64" y="1054.06" width="10.7" height="10.7" fill="none" stroke="#d65f5f" stroke-width="3.6" clip-path="url(#c7)"/>
<path d="M281.55 1023.58V1166.92" stroke="#d65f5f" stroke-width="3.1" fill="none" clip-path="url(#c7)"/>
<path d="M272.75 1023.58h17.6M272.75 1166.92h17.6" stroke="#d65f5f" stroke-width="3.5" fill="none" clip-path="url(#c7)"/>
<rect x="276.2" y="1089.9" width="10.7" height="10.7" fill="none" stroke="#d65f5f" stroke-width="3.6" clip-path="url(#c7)"/>
<path d="M306.1 1006.38V1043.65" stroke="#d65f5f" stroke-width="3.1" fill="none" clip-path="url(#c7)"/>
<path d="M297.3 1006.38h17.6M297.3 1043.65h17.6" stroke="#d65f5f" stroke-width="3.5" fill="none" clip-path="url(#c7)"/>
<rect x="300.75" y="1019.66" width="10.7" height="10.7" fill="none" stroke="#d65f5f" stroke-width="3.6" clip-path="url(#c7)"/>
<path d="M428.88 1190.57V1232.14" stroke="#d65f5f" stroke-width="3.1" fill="none" clip-path="url(#c7)"/>
<path d="M420.08 1190.57h17.6M420.08 1232.14h17.6" stroke="#d65f5f" stroke-width="3.5" fill="none" clip-path="url(#c7)"/>
<rect x="423.53" y="1206.01" width="10.7" height="10.7" fill="none" stroke="#d65f5f" stroke-width="3.6" clip-path="url(#c7)"/>
<path d="M453.44 984.88V1022.15" stroke="#d65f5f" stroke-width="3.1" fill="none" clip-path="url(#c7)"/>
<path d="M444.64 984.88h17.6M444.64 1022.15h17.6" stroke="#d65f5f" stroke-width="3.5" fill="none" clip-path="url(#c7)"/>
<rect x="448.09" y="998.16" width="10.7" height="10.7" fill="none" stroke="#d65f5f" stroke-width="3.6" clip-path="url(#c7)"/>
<path d="M478 1203.62V1230.57" stroke="#d65f5f" stroke-width="3.1" fill="none" clip-path="url(#c7)"/>
<path d="M469.2 1203.62h17.6M469.2 1230.57h17.6" stroke="#d65f5f" stroke-width="3.5" fill="none" clip-path="url(#c7)"/>
<rect x="472.65" y="1211.74" width="10.7" height="10.7" fill="none" stroke="#d65f5f" stroke-width="3.6" clip-path="url(#c7)"/>
<path d="M502.55 1095.25V1123.92" stroke="#d65f5f" stroke-width="3.1" fill="none" clip-path="url(#c7)"/>
<path d="M493.75 1095.25h17.6M493.75 1123.92h17.6" stroke="#d65f5f" stroke-width="3.5" fill="none" clip-path="url(#c7)"/>
<rect x="497.2" y="1104.23" width="10.7" height="10.7" fill="none" stroke="#d65f5f" stroke-width="3.6" clip-path="url(#c7)"/>
<path d="M527.11 1099.55V1128.22" stroke="#d65f5f" stroke-width="3.1" fill="none" clip-path="url(#c7)"/>
<path d="M518.31 1099.55h17.6M518.31 1128.22h17.6" stroke="#d65f5f" stroke-width="3.5" fill="none" clip-path="url(#c7)"/>
<rect x="521.76" y="1108.53" width="10.7" height="10.7" fill="none" stroke="#d65f5f" stroke-width="3.6" clip-path="url(#c7)"/>
<path d="M551.66 1035.76V1071.6" stroke="#d65f5f" stroke-width="3.1" fill="none" clip-path="url(#c7)"/>
<path d="M542.86 1035.76h17.6M542.86 1071.6h17.6" stroke="#d65f5f" stroke-width="3.5" fill="none" clip-path="url(#c7)"/>
<rect x="546.31" y="1048.33" width="10.7" height="10.7" fill="none" stroke="#d65f5f" stroke-width="3.6" clip-path="url(#c7)"/>
<path d="M576.22 969.11V986.31" stroke="#d65f5f" stroke-width="3.1" fill="none" clip-path="url(#c7)"/>
<path d="M567.42 969.11h17.6M567.42 986.31h17.6" stroke="#d65f5f" stroke-width="3.5" fill="none" clip-path="url(#c7)"/>
<rect x="570.87" y="972.36" width="10.7" height="10.7" fill="none" stroke="#d65f5f" stroke-width="3.6" clip-path="url(#c7)"/>
<path d="M600.78 1001.36V1040.06" stroke="#d65f5f" stroke-width="3.1" fill="none" clip-path="url(#c7)"/>
<path d="M591.98 1001.36h17.6M591.98 1040.06h17.6" stroke="#d65f5f" stroke-width="3.5" fill="none" clip-path="url(#c7)"/>
<rect x="595.43" y="1015.36" width="10.7" height="10.7" fill="none" stroke="#d65f5f" stroke-width="3.6" clip-path="url(#c7)"/>
<path d="M625.33 979.86V1008.53" stroke="#d65f5f" stroke-width="3.1" fill="none" clip-path="url(#c7)"/>
<path d="M616.53 979.86h17.6M616.53 1008.53h17.6" stroke="#d65f5f" stroke-width="3.5" fill="none" clip-path="url(#c7)"/>
<rect x="619.98" y="988.84" width="10.7" height="10.7" fill="none" stroke="#d65f5f" stroke-width="3.6" clip-path="url(#c7)"/>
<path d="M649.89 918.51V962.37" stroke="#d65f5f" stroke-width="3.1" fill="none" clip-path="url(#c7)"/>
<path d="M641.09 918.51h17.6M641.09 962.37h17.6" stroke="#d65f5f" stroke-width="3.5" fill="none" clip-path="url(#c7)"/>
<rect x="644.54" y="935.09" width="10.7" height="10.7" fill="none" stroke="#d65f5f" stroke-width="3.6" clip-path="url(#c7)"/>
<path d="M674.44 963.37V1017.85" stroke="#d65f5f" stroke-width="3.1" fill="none" clip-path="url(#c7)"/>
<path d="M665.64 963.37h17.6M665.64 1017.85h17.6" stroke="#d65f5f" stroke-width="3.5" fill="none" clip-path="url(#c7)"/>
<rect x="669.09" y="985.26" width="10.7" height="10.7" fill="none" stroke="#d65f5f" stroke-width="3.6" clip-path="url(#c7)"/>
<path d="M699 956.21V979.14" stroke="#d65f5f" stroke-width="3.1" fill="none" clip-path="url(#c7)"/>
<path d="M690.2 956.21h17.6M690.2 979.14h17.6" stroke="#d65f5f" stroke-width="3.5" fill="none" clip-path="url(#c7)"/>
<rect x="693.65" y="962.33" width="10.7" height="10.7" fill="none" stroke="#d65f5f" stroke-width="3.6" clip-path="url(#c7)"/>
<path d="M134.21 1143.99V1158.46" stroke="#d65f5f" stroke-width="3.1" fill="none"/>
<path d="M125.41 1143.99h17.6" stroke="#d65f5f" stroke-width="3.5" fill="none"/>
<path d="M124.81 1158.46L143.61 1158.46L134.21 1173.46Z" fill="#d65f5f" stroke="#d65f5f" stroke-width="1" stroke-linejoin="miter"/>
<path d="M85.1 1341.8v-15.8M109.66 1341.8v-10.5M134.21 1341.8v-10.5M158.77 1341.8v-10.5M183.32 1341.8v-10.5M207.88 1341.8v-15.8M232.44 1341.8v-10.5M256.99 1341.8v-10.5M281.55 1341.8v-10.5M306.1 1341.8v-10.5M330.66 1341.8v-15.8M355.22 1341.8v-10.5M379.77 1341.8v-10.5M404.33 1341.8v-10.5M428.88 1341.8v-10.5M453.44 1341.8v-15.8M478 1341.8v-10.5M502.55 1341.8v-10.5M527.11 1341.8v-10.5M551.66 1341.8v-10.5M576.22 1341.8v-15.8M600.78 1341.8v-10.5M625.33 1341.8v-10.5M649.89 1341.8v-10.5M674.44 1341.8v-10.5M699 1341.8v-15.8M723.56 1341.8v-10.5M85.1 1341.8h15.8M85.1 1198.46h15.8M85.1 1055.11h15.8M85.1 911.77h15.8M85.1 1341.8h10.5M85.1 1270.13h10.5M85.1 1198.46h10.5M85.1 1126.79h10.5M85.1 1055.11h10.5M85.1 983.44h10.5M85.1 911.77h10.5M85.1 840.1h10.5" stroke="#262626" stroke-width="2.6" fill="none"/>
<rect x="85.1" y="840.1" width="638.46" height="501.7" fill="none" stroke="#262626" stroke-width="2.8"/>
<g font-family="'DejaVu Serif', serif" font-size="28.6" fill="#262626"><text x="85.1" y="1369.3" text-anchor="middle">5</text><text x="207.88" y="1369.3" text-anchor="middle">10</text><text x="330.66" y="1369.3" text-anchor="middle">15</text><text x="453.44" y="1369.3" text-anchor="middle">20</text><text x="576.22" y="1369.3" text-anchor="middle">25</text><text x="699" y="1369.3" text-anchor="middle">30</text><text x="79.3" y="1352.5" text-anchor="end">−4</text><text x="79.3" y="1209.16" text-anchor="end">−3</text><text x="79.3" y="1065.81" text-anchor="end">−2</text><text x="79.3" y="922.47" text-anchor="end">−1</text></g>
<rect x="98.5" y="853.4" width="309.82" height="83.7" rx="5.2" ry="5.2" fill="#ffffff" fill-opacity="0.8" stroke="#cccccc" stroke-opacity="0.8" stroke-width="2.2"/>
<path d="M107.3 874H161.1" stroke="#4270d6" stroke-width="2.0"/>
<path d="M107.3 912.1H161.1" stroke="#ffa500" stroke-width="2.0"/>
<g font-family="'DejaVu Serif', serif" font-size="26.0" fill="#262626"><text x="180.5" y="883.3">CC R18 M12</text><text x="180.5" y="921.5">ISM [Fe/H]=-3.5</text></g>
<g fill="#262626">
<text x="482.56" y="868.7" font-family="'DejaVu Sans', sans-serif" font-style="italic" font-size="26">χ</text>
<text x="500.06" y="859.4" font-family="'DejaVu Sans', sans-serif" font-size="18.6">2</text>
<text x="497.76" y="875.6" font-family="'DejaVu Sans', sans-serif" font-style="italic" font-size="18.6">r</text>
<text x="511.56" y="868.7" font-family="'DejaVu Serif', serif" font-size="26">/MAD=26.1/3.4</text>
</g>
<path d="M207.88 1398.9V1621.05M330.66 1398.9V1621.05M453.44 1398.9V1621.05M576.22 1398.9V1621.05M699 1398.9V1621.05M85.1 1611.62H723.56M85.1 1529.65H723.56M85.1 1447.67H723.56" stroke="#cccccc" stroke-width="2.7" fill="none"/>
<path d="M85.1 1529.65H723.56" stroke="#000" stroke-width="3.9" stroke-dasharray="3.9 6.45" fill="none" clip-path="url(#c8)"/>
<path d="M232.44 1479.64 L256.99 1492.02 L281.55 1405.05 L306.1 1522.27" stroke="#4270d6" stroke-width="3.9" fill="none" stroke-linejoin="round" stroke-linecap="round" clip-path="url(#c8)"/>
<path d="M428.88 1567.36 L453.44 1518.99 L478 1523.91 L502.55 1596.87 L527.11 1552.19 L551.66 1555.06 L576.22 1454.23 L600.78 1543.58 L625.33 1575.55 L649.89 1528.01 L674.44 1518.99 L699 1473.91" stroke="#4270d6" stroke-width="3.9" fill="none" stroke-linejoin="round" stroke-linecap="round" clip-path="url(#c8)"/>
<path d="M232.44 1524.73 L256.99 1439.89 L281.55 1436.61 L306.1 1396.44" stroke="#ffa500" stroke-width="3.9" fill="none" stroke-linejoin="round" stroke-linecap="round" clip-path="url(#c8)"/>
<path d="M428.88 1513.83 L453.44 1399.47 L478 1503.25 L502.55 1468.33 L527.11 1441.61 L551.66 1359.14 L576.22 1325.94 L600.78 1389.88 L625.33 1399.72 L649.89 1362.42 L674.44 1333.32 L699 1387.83" stroke="#ffa500" stroke-width="3.9" fill="none" stroke-linejoin="round" stroke-linecap="round" clip-path="url(#c8)"/>
<path d="M232.44 1531.21 L256.99 1502.19 L281.55 1450.95 L306.1 1529.65" stroke="#d65f5f" stroke-width="3.9" fill="none" stroke-linejoin="round" stroke-linecap="round" clip-path="url(#c8)"/>
<path d="M428.88 1575.96 L453.44 1521.04 L478 1539.08 L502.55 1602.61 L527.11 1553.18 L551.66 1557.11 L576.22 1455.87 L600.78 1543.99 L625.33 1576.37 L649.89 1528.01 L674.44 1523.34 L699 1475.55" stroke="#d65f5f" stroke-width="3.9" fill="none" stroke-linejoin="round" stroke-linecap="round" clip-path="url(#c8)"/>
<path d="M109.66 1536.7V1572.77" stroke="#d65f5f" stroke-width="3.1" fill="none" clip-path="url(#c8)"/>
<path d="M100.86 1536.7h17.6M100.86 1572.77h17.6" stroke="#d65f5f" stroke-width="3.5" fill="none" clip-path="url(#c8)"/>
<rect x="104.31" y="1549.38" width="10.7" height="10.7" fill="none" stroke="#d65f5f" stroke-width="3.6" clip-path="url(#c8)"/>
<path d="M158.77 1479.64V1507.52" stroke="#d65f5f" stroke-width="3.1" fill="none" clip-path="url(#c8)"/>
<path d="M149.97 1479.64h17.6M149.97 1507.52h17.6" stroke="#d65f5f" stroke-width="3.5" fill="none" clip-path="url(#c8)"/>
<rect x="153.42" y="1488.23" width="10.7" height="10.7" fill="none" stroke="#d65f5f" stroke-width="3.6" clip-path="url(#c8)"/>
<path d="M232.44 1523.5V1538.91" stroke="#d65f5f" stroke-width="3.1" fill="none" clip-path="url(#c8)"/>
<path d="M223.64 1523.5h17.6M223.64 1538.91h17.6" stroke="#d65f5f" stroke-width="3.5" fill="none" clip-path="url(#c8)"/>
<rect x="227.09" y="1525.86" width="10.7" height="10.7" fill="none" stroke="#d65f5f" stroke-width="3.6" clip-path="url(#c8)"/>
<path d="M256.99 1493.17V1511.2" stroke="#d65f5f" stroke-width="3.1" fill="none" clip-path="url(#c8)"/>
<path d="M248.19 1493.17h17.6M248.19 1511.2h17.6" stroke="#d65f5f" stroke-width="3.5" fill="none" clip-path="url(#c8)"/>
<rect x="251.64" y="1496.84" width="10.7" height="10.7" fill="none" stroke="#d65f5f" stroke-width="3.6" clip-path="url(#c8)"/>
<path d="M281.55 1409.97V1491.94" stroke="#d65f5f" stroke-width="3.1" fill="none" clip-path="url(#c8)"/>
<path d="M272.75 1409.97h17.6M272.75 1491.94h17.6" stroke="#d65f5f" stroke-width="3.5" fill="none" clip-path="url(#c8)"/>
<rect x="276.2" y="1445.6" width="10.7" height="10.7" fill="none" stroke="#d65f5f" stroke-width="3.6" clip-path="url(#c8)"/>
<path d="M306.1 1518.99V1540.31" stroke="#d65f5f" stroke-width="3.1" fill="none" clip-path="url(#c8)"/>
<path d="M297.3 1518.99h17.6M297.3 1540.31h17.6" stroke="#d65f5f" stroke-width="3.5" fill="none" clip-path="url(#c8)"/>
<rect x="300.75" y="1524.3" width="10.7" height="10.7" fill="none" stroke="#d65f5f" stroke-width="3.6" clip-path="url(#c8)"/>
<path d="M428.88 1564.08V1587.85" stroke="#d65f5f" stroke-width="3.1" fill="none" clip-path="url(#c8)"/>
<path d="M420.08 1564.08h17.6M420.08 1587.85h17.6" stroke="#d65f5f" stroke-width="3.5" fill="none" clip-path="url(#c8)"/>
<rect x="423.53" y="1570.61" width="10.7" height="10.7" fill="none" stroke="#d65f5f" stroke-width="3.6" clip-path="url(#c8)"/>
<path d="M453.44 1510.38V1531.7" stroke="#d65f5f" stroke-width="3.1" fill="none" clip-path="url(#c8)"/>
<path d="M444.64 1510.38h17.6M444.64 1531.7h17.6" stroke="#d65f5f" stroke-width="3.5" fill="none" clip-path="url(#c8)"/>
<rect x="448.09" y="1515.69" width="10.7" height="10.7" fill="none" stroke="#d65f5f" stroke-width="3.6" clip-path="url(#c8)"/>
<path d="M478 1531.37V1546.78" stroke="#d65f5f" stroke-width="3.1" fill="none" clip-path="url(#c8)"/>
<path d="M469.2 1531.37h17.6M469.2 1546.78h17.6" stroke="#d65f5f" stroke-width="3.5" fill="none" clip-path="url(#c8)"/>
<rect x="472.65" y="1533.73" width="10.7" height="10.7" fill="none" stroke="#d65f5f" stroke-width="3.6" clip-path="url(#c8)"/>
<path d="M502.55 1594.41V1610.8" stroke="#d65f5f" stroke-width="3.1" fill="none" clip-path="url(#c8)"/>
<path d="M493.75 1594.41h17.6M493.75 1610.8h17.6" stroke="#d65f5f" stroke-width="3.5" fill="none" clip-path="url(#c8)"/>
<rect x="497.2" y="1597.26" width="10.7" height="10.7" fill="none" stroke="#d65f5f" stroke-width="3.6" clip-path="url(#c8)"/>
<path d="M527.11 1544.98V1561.37" stroke="#d65f5f" stroke-width="3.1" fill="none" clip-path="url(#c8)"/>
<path d="M518.31 1544.98h17.6M518.31 1561.37h17.6" stroke="#d65f5f" stroke-width="3.5" fill="none" clip-path="url(#c8)"/>
<rect x="521.76" y="1547.83" width="10.7" height="10.7" fill="none" stroke="#d65f5f" stroke-width="3.6" clip-path="url(#c8)"/>
<path d="M551.66 1546.86V1567.36" stroke="#d65f5f" stroke-width="3.1" fill="none" clip-path="url(#c8)"/>
<path d="M542.86 1546.86h17.6M542.86 1567.36h17.6" stroke="#d65f5f" stroke-width="3.5" fill="none" clip-path="url(#c8)"/>
<rect x="546.31" y="1551.76" width="10.7" height="10.7" fill="none" stroke="#d65f5f" stroke-width="3.6" clip-path="url(#c8)"/>
<path d="M576.22 1450.95V1460.79" stroke="#d65f5f" stroke-width="3.1" fill="none" clip-path="url(#c8)"/>
<path d="M567.42 1450.95h17.6M567.42 1460.79h17.6" stroke="#d65f5f" stroke-width="3.5" fill="none" clip-path="url(#c8)"/>
<rect x="570.87" y="1450.52" width="10.7" height="10.7" fill="none" stroke="#d65f5f" stroke-width="3.6" clip-path="url(#c8)"/>
<path d="M600.78 1532.93V1555.06" stroke="#d65f5f" stroke-width="3.1" fill="none" clip-path="url(#c8)"/>
<path d="M591.98 1532.93h17.6M591.98 1555.06h17.6" stroke="#d65f5f" stroke-width="3.5" fill="none" clip-path="url(#c8)"/>
<rect x="595.43" y="1538.64" width="10.7" height="10.7" fill="none" stroke="#d65f5f" stroke-width="3.6" clip-path="url(#c8)"/>
<path d="M625.33 1568.18V1584.57" stroke="#d65f5f" stroke-width="3.1" fill="none" clip-path="url(#c8)"/>
<path d="M616.53 1568.18h17.6M616.53 1584.57h17.6" stroke="#d65f5f" stroke-width="3.5" fill="none" clip-path="url(#c8)"/>
<rect x="619.98" y="1571.02" width="10.7" height="10.7" fill="none" stroke="#d65f5f" stroke-width="3.6" clip-path="url(#c8)"/>
<path d="M649.89 1515.47V1540.55" stroke="#d65f5f" stroke-width="3.1" fill="none" clip-path="url(#c8)"/>
<path d="M641.09 1515.47h17.6M641.09 1540.55h17.6" stroke="#d65f5f" stroke-width="3.5" fill="none" clip-path="url(#c8)"/>
<rect x="644.54" y="1522.66" width="10.7" height="10.7" fill="none" stroke="#d65f5f" stroke-width="3.6" clip-path="url(#c8)"/>
<path d="M674.44 1507.76V1538.91" stroke="#d65f5f" stroke-width="3.1" fill="none" clip-path="url(#c8)"/>
<path d="M665.64 1507.76h17.6M665.64 1538.91h17.6" stroke="#d65f5f" stroke-width="3.5" fill="none" clip-path="url(#c8)"/>
<rect x="669.09" y="1517.99" width="10.7" height="10.7" fill="none" stroke="#d65f5f" stroke-width="3.6" clip-path="url(#c8)"/>
<path d="M699 1468.99V1482.1" stroke="#d65f5f" stroke-width="3.1" fill="none" clip-path="url(#c8)"/>
<path d="M690.2 1468.99h17.6M690.2 1482.1h17.6" stroke="#d65f5f" stroke-width="3.5" fill="none" clip-path="url(#c8)"/>
<rect x="693.65" y="1470.2" width="10.7" height="10.7" fill="none" stroke="#d65f5f" stroke-width="3.6" clip-path="url(#c8)"/>
<path d="M85.1 1621.05v-15.8M109.66 1621.05v-10.5M134.21 1621.05v-10.5M158.77 1621.05v-10.5M183.32 1621.05v-10.5M207.88 1621.05v-15.8M232.44 1621.05v-10.5M256.99 1621.05v-10.5M281.55 1621.05v-10.5M306.1 1621.05v-10.5M330.66 1621.05v-15.8M355.22 1621.05v-10.5M379.77 1621.05v-10.5M404.33 1621.05v-10.5M428.88 1621.05v-10.5M453.44 1621.05v-15.8M478 1621.05v-10.5M502.55 1621.05v-10.5M527.11 1621.05v-10.5M551.66 1621.05v-10.5M576.22 1621.05v-15.8M600.78 1621.05v-10.5M625.33 1621.05v-10.5M649.89 1621.05v-10.5M674.44 1621.05v-10.5M699 1621.05v-15.8M723.56 1621.05v-10.5M85.1 1611.62h15.8M85.1 1529.65h15.8M85.1 1447.67h15.8M85.1 1595.23h10.5M85.1 1578.83h10.5M85.1 1562.44h10.5M85.1 1546.04h10.5M85.1 1513.25h10.5M85.1 1496.86h10.5M85.1 1480.46h10.5M85.1 1464.07h10.5M85.1 1431.28h10.5M85.1 1414.88h10.5" stroke="#262626" stroke-width="2.6" fill="none"/>
<rect x="85.1" y="1398.9" width="638.46" height="222.15" fill="none" stroke="#262626" stroke-width="2.8"/>
<g font-family="'DejaVu Serif', serif" font-size="28.6" fill="#262626"><text x="85.1" y="1648.55" text-anchor="middle">5</text><text x="207.88" y="1648.55" text-anchor="middle">10</text><text x="330.66" y="1648.55" text-anchor="middle">15</text><text x="453.44" y="1648.55" text-anchor="middle">20</text><text x="576.22" y="1648.55" text-anchor="middle">25</text><text x="699" y="1648.55" text-anchor="middle">30</text><text x="79.3" y="1622.32" text-anchor="end">−1</text><text x="79.3" y="1540.35" text-anchor="end">0</text><text x="79.3" y="1458.37" text-anchor="end">1</text></g>
<path d="M929.38 840.1V1341.8M1052.16 840.1V1341.8M1174.94 840.1V1341.8M1297.72 840.1V1341.8M1420.5 840.1V1341.8M806.6 1198.46H1445.06M806.6 1055.11H1445.06M806.6 911.77H1445.06" stroke="#cccccc" stroke-width="2.7" fill="none"/>
<path d="M831.16 1138.25 L855.71 1174.09 L880.27 1044.36 L904.82 1304.53 L929.38 1106.72 L953.94 1303.1 L978.49 1033.61 L1003.05 1134.67 L1027.6 1031.32 L1052.16 1133.95 L1076.72 990.61 L1101.27 1184.12 L1125.83 996.34 L1150.38 1201.32 L1174.94 1005.66 L1199.5 1111.02 L1224.05 1040.78 L1248.61 1083.78 L1273.16 1032.18 L1297.72 1159.75 L1322.28 1010.68 L1346.83 1053.68 L1371.39 1047.23 L1395.94 1051.53 L1420.5 974.84 L1445.06 1273" stroke="#4270d6" stroke-width="1.9" fill="none" stroke-linejoin="round" stroke-linecap="round" clip-path="url(#c9)"/>
<path d="M831.16 1232.86 L855.71 1175.52 L880.27 1143.99 L904.82 1308.83 L929.38 1308.83 L953.94 1324.6 L978.49 1260.09 L1003.05 1298.8 L1027.6 1300.23 L1052.16 1308.83 L1076.72 1308.83 L1101.27 1308.83 L1125.83 1308.83 L1150.38 1281.6 L1174.94 1273 L1199.5 1305.25 L1224.05 1255.79 L1248.61 1311.7 L1273.16 1400.57 L1297.72 1377.64 L1322.28 1308.83 L1346.83 1267.26 L1371.39 1277.3 L1395.94 1377.64 L1420.5 1257.94 L1445.06 1304.53" stroke="#ffa500" stroke-width="1.9" fill="none" stroke-linejoin="round" stroke-linecap="round" clip-path="url(#c9)"/>
<path d="M831.16 1124.06 L855.71 1132.52 L880.27 1028.74 L904.82 1266.55 L929.38 1099.55 L953.94 1269.99 L978.49 1023.72 L1003.05 1130.94 L1027.6 1023.72 L1052.16 1129.65 L1076.72 987.74 L1101.27 1175.52 L1125.83 993.48 L1150.38 1188.42 L1174.94 1002.22 L1199.5 1110.01 L1224.05 1039.49 L1248.61 1082.06 L1273.16 1030.75 L1297.72 1158.03 L1322.28 1009.24 L1346.83 1052.82 L1371.39 1046.23 L1395.94 1050.53 L1420.5 973.98 L1445.06 1265.83" stroke="#000000" stroke-width="2.1" fill="none" stroke-linejoin="round" stroke-linecap="round" clip-path="url(#c9)"/>
<path d="M831.16 1093.82V1156.89" stroke="#d65f5f" stroke-width="3.1" fill="none" clip-path="url(#c9)"/>
<path d="M822.36 1093.82h17.6M822.36 1156.89h17.6" stroke="#d65f5f" stroke-width="3.5" fill="none" clip-path="url(#c9)"/>
<rect x="825.81" y="1120" width="10.7" height="10.7" fill="none" stroke="#d65f5f" stroke-width="3.6" clip-path="url(#c9)"/>
<path d="M880.27 964.81V1013.54" stroke="#d65f5f" stroke-width="3.1" fill="none" clip-path="url(#c9)"/>
<path d="M871.47 964.81h17.6M871.47 1013.54h17.6" stroke="#d65f5f" stroke-width="3.5" fill="none" clip-path="url(#c9)"/>
<rect x="874.92" y="983.83" width="10.7" height="10.7" fill="none" stroke="#d65f5f" stroke-width="3.6" clip-path="url(#c9)"/>
<path d="M953.94 1255.22V1282.17" stroke="#d65f5f" stroke-width="3.1" fill="none" clip-path="url(#c9)"/>
<path d="M945.14 1255.22h17.6M945.14 1282.17h17.6" stroke="#d65f5f" stroke-width="3.5" fill="none" clip-path="url(#c9)"/>
<rect x="948.59" y="1263.35" width="10.7" height="10.7" fill="none" stroke="#d65f5f" stroke-width="3.6" clip-path="url(#c9)"/>
<path d="M978.49 1043.65V1075.18" stroke="#d65f5f" stroke-width="3.1" fill="none" clip-path="url(#c9)"/>
<path d="M969.69 1043.65h17.6M969.69 1075.18h17.6" stroke="#d65f5f" stroke-width="3.5" fill="none" clip-path="url(#c9)"/>
<rect x="973.14" y="1054.06" width="10.7" height="10.7" fill="none" stroke="#d65f5f" stroke-width="3.6" clip-path="url(#c9)"/>
<path d="M1003.05 1023.58V1166.92" stroke="#d65f5f" stroke-width="3.1" fill="none" clip-path="url(#c9)"/>
<path d="M994.25 1023.58h17.6M994.25 1166.92h17.6" stroke="#d65f5f" stroke-width="3.5" fill="none" clip-path="url(#c9)"/>
<rect x="997.7" y="1089.9" width="10.7" height="10.7" fill="none" stroke="#d65f5f" stroke-width="3.6" clip-path="url(#c9)"/>
<path d="M1027.6 1006.38V1043.65" stroke="#d65f5f" stroke-width="3.1" fill="none" clip-path="url(#c9)"/>
<path d="M1018.8 1006.38h17.6M1018.8 1043.65h17.6" stroke="#d65f5f" stroke-width="3.5" fill="none" clip-path="url(#c9)"/>
<rect x="1022.25" y="1019.66" width="10.7" height="10.7" fill="none" stroke="#d65f5f" stroke-width="3.6" clip-path="url(#c9)"/>
<path d="M1150.38 1190.57V1232.14" stroke="#d65f5f" stroke-width="3.1" fill="none" clip-path="url(#c9)"/>
<path d="M1141.58 1190.57h17.6M1141.58 1232.14h17.6" stroke="#d65f5f" stroke-width="3.5" fill="none" clip-path="url(#c9)"/>
<rect x="1145.03" y="1206.01" width="10.7" height="10.7" fill="none" stroke="#d65f5f" stroke-width="3.6" clip-path="url(#c9)"/>
<path d="M1174.94 984.88V1022.15" stroke="#d65f5f" stroke-width="3.1" fill="none" clip-path="url(#c9)"/>
<path d="M1166.14 984.88h17.6M1166.14 1022.15h17.6" stroke="#d65f5f" stroke-width="3.5" fill="none" clip-path="url(#c9)"/>
<rect x="1169.59" y="998.16" width="10.7" height="10.7" fill="none" stroke="#d65f5f" stroke-width="3.6" clip-path="url(#c9)"/>
<path d="M1199.5 1203.62V1230.57" stroke="#d65f5f" stroke-width="3.1" fill="none" clip-path="url(#c9)"/>
<path d="M1190.7 1203.62h17.6M1190.7 1230.57h17.6" stroke="#d65f5f" stroke-width="3.5" fill="none" clip-path="url(#c9)"/>
<rect x="1194.15" y="1211.74" width="10.7" height="10.7" fill="none" stroke="#d65f5f" stroke-width="3.6" clip-path="url(#c9)"/>
<path d="M1224.05 1095.25V1123.92" stroke="#d65f5f" stroke-width="3.1" fill="none" clip-path="url(#c9)"/>
<path d="M1215.25 1095.25h17.6M1215.25 1123.92h17.6" stroke="#d65f5f" stroke-width="3.5" fill="none" clip-path="url(#c9)"/>
<rect x="1218.7" y="1104.23" width="10.7" height="10.7" fill="none" stroke="#d65f5f" stroke-width="3.6" clip-path="url(#c9)"/>
<path d="M1248.61 1099.55V1128.22" stroke="#d65f5f" stroke-width="3.1" fill="none" clip-path="url(#c9)"/>
<path d="M1239.81 1099.55h17.6M1239.81 1128.22h17.6" stroke="#d65f5f" stroke-width="3.5" fill="none" clip-path="url(#c9)"/>
<rect x="1243.26" y="1108.53" width="10.7" height="10.7" fill="none" stroke="#d65f5f" stroke-width="3.6" clip-path="url(#c9)"/>
<path d="M1273.16 1035.76V1071.6" stroke="#d65f5f" stroke-width="3.1" fill="none" clip-path="url(#c9)"/>
<path d="M1264.36 1035.76h17.6M1264.36 1071.6h17.6" stroke="#d65f5f" stroke-width="3.5" fill="none" clip-path="url(#c9)"/>
<rect x="1267.81" y="1048.33" width="10.7" height="10.7" fill="none" stroke="#d65f5f" stroke-width="3.6" clip-path="url(#c9)"/>
<path d="M1297.72 969.11V986.31" stroke="#d65f5f" stroke-width="3.1" fill="none" clip-path="url(#c9)"/>
<path d="M1288.92 969.11h17.6M1288.92 986.31h17.6" stroke="#d65f5f" stroke-width="3.5" fill="none" clip-path="url(#c9)"/>
<rect x="1292.37" y="972.36" width="10.7" height="10.7" fill="none" stroke="#d65f5f" stroke-width="3.6" clip-path="url(#c9)"/>
<path d="M1322.28 1001.36V1040.06" stroke="#d65f5f" stroke-width="3.1" fill="none" clip-path="url(#c9)"/>
<path d="M1313.48 1001.36h17.6M1313.48 1040.06h17.6" stroke="#d65f5f" stroke-width="3.5" fill="none" clip-path="url(#c9)"/>
<rect x="1316.93" y="1015.36" width="10.7" height="10.7" fill="none" stroke="#d65f5f" stroke-width="3.6" clip-path="url(#c9)"/>
<path d="M1346.83 979.86V1008.53" stroke="#d65f5f" stroke-width="3.1" fill="none" clip-path="url(#c9)"/>
<path d="M1338.03 979.86h17.6M1338.03 1008.53h17.6" stroke="#d65f5f" stroke-width="3.5" fill="none" clip-path="url(#c9)"/>
<rect x="1341.48" y="988.84" width="10.7" height="10.7" fill="none" stroke="#d65f5f" stroke-width="3.6" clip-path="url(#c9)"/>
<path d="M1371.39 918.51V962.37" stroke="#d65f5f" stroke-width="3.1" fill="none" clip-path="url(#c9)"/>
<path d="M1362.59 918.51h17.6M1362.59 962.37h17.6" stroke="#d65f5f" stroke-width="3.5" fill="none" clip-path="url(#c9)"/>
<rect x="1366.04" y="935.09" width="10.7" height="10.7" fill="none" stroke="#d65f5f" stroke-width="3.6" clip-path="url(#c9)"/>
<path d="M1395.94 963.37V1017.85" stroke="#d65f5f" stroke-width="3.1" fill="none" clip-path="url(#c9)"/>
<path d="M1387.14 963.37h17.6M1387.14 1017.85h17.6" stroke="#d65f5f" stroke-width="3.5" fill="none" clip-path="url(#c9)"/>
<rect x="1390.59" y="985.26" width="10.7" height="10.7" fill="none" stroke="#d65f5f" stroke-width="3.6" clip-path="url(#c9)"/>
<path d="M1420.5 956.21V979.14" stroke="#d65f5f" stroke-width="3.1" fill="none" clip-path="url(#c9)"/>
<path d="M1411.7 956.21h17.6M1411.7 979.14h17.6" stroke="#d65f5f" stroke-width="3.5" fill="none" clip-path="url(#c9)"/>
<rect x="1415.15" y="962.33" width="10.7" height="10.7" fill="none" stroke="#d65f5f" stroke-width="3.6" clip-path="url(#c9)"/>
<path d="M855.71 1143.99V1158.46" stroke="#d65f5f" stroke-width="3.1" fill="none"/>
<path d="M846.91 1143.99h17.6" stroke="#d65f5f" stroke-width="3.5" fill="none"/>
<path d="M846.31 1158.46L865.11 1158.46L855.71 1173.46Z" fill="#d65f5f" stroke="#d65f5f" stroke-width="1" stroke-linejoin="miter"/>
<path d="M806.6 1341.8v-15.8M831.16 1341.8v-10.5M855.71 1341.8v-10.5M880.27 1341.8v-10.5M904.82 1341.8v-10.5M929.38 1341.8v-15.8M953.94 1341.8v-10.5M978.49 1341.8v-10.5M1003.05 1341.8v-10.5M1027.6 1341.8v-10.5M1052.16 1341.8v-15.8M1076.72 1341.8v-10.5M1101.27 1341.8v-10.5M1125.83 1341.8v-10.5M1150.38 1341.8v-10.5M1174.94 1341.8v-15.8M1199.5 1341.8v-10.5M1224.05 1341.8v-10.5M1248.61 1341.8v-10.5M1273.16 1341.8v-10.5M1297.72 1341.8v-15.8M1322.28 1341.8v-10.5M1346.83 1341.8v-10.5M1371.39 1341.8v-10.5M1395.94 1341.8v-10.5M1420.5 1341.8v-15.8M1445.06 1341.8v-10.5M806.6 1341.8h15.8M806.6 1198.46h15.8M806.6 1055.11h15.8M806.6 911.77h15.8M806.6 1341.8h10.5M806.6 1270.13h10.5M806.6 1198.46h10.5M806.6 1126.79h10.5M806.6 1055.11h10.5M806.6 983.44h10.5M806.6 911.77h10.5M806.6 840.1h10.5" stroke="#262626" stroke-width="2.6" fill="none"/>
<rect x="806.6" y="840.1" width="638.46" height="501.7" fill="none" stroke="#262626" stroke-width="2.8"/>
<g font-family="'DejaVu Serif', serif" font-size="28.6" fill="#262626"><text x="806.6" y="1369.3" text-anchor="middle">5</text><text x="929.38" y="1369.3" text-anchor="middle">10</text><text x="1052.16" y="1369.3" text-anchor="middle">15</text><text x="1174.94" y="1369.3" text-anchor="middle">20</text><text x="1297.72" y="1369.3" text-anchor="middle">25</text><text x="1420.5" y="1369.3" text-anchor="middle">30</text><text x="800.8" y="1352.5" text-anchor="end">−4</text><text x="800.8" y="1209.16" text-anchor="end">−3</text><text x="800.8" y="1065.81" text-anchor="end">−2</text><text x="800.8" y="922.47" text-anchor="end">−1</text></g>
<rect x="820" y="853.4" width="327.04" height="83.7" rx="5.2" ry="5.2" fill="#ffffff" fill-opacity="0.8" stroke="#cccccc" stroke-opacity="0.8" stroke-width="2.2"/>
<path d="M828.8 874H882.6" stroke="#4270d6" stroke-width="2.0"/>
<path d="M828.8 912.1H882.6" stroke="#ffa500" stroke-width="2.0"/>
<g font-family="'DejaVu Serif', serif" font-size="26.0" fill="#262626"><text x="902" y="883.3">HN G18 M80 E70</text><text x="902" y="921.5">ISM [Fe/H]=-3.5</text></g>
<g fill="#262626">
<text x="1204.06" y="868.7" font-family="'DejaVu Sans', sans-serif" font-style="italic" font-size="26">χ</text>
<text x="1221.56" y="859.4" font-family="'DejaVu Sans', sans-serif" font-size="18.6">2</text>
<text x="1219.26" y="875.6" font-family="'DejaVu Sans', sans-serif" font-style="italic" font-size="18.6">r</text>
<text x="1233.06" y="868.7" font-family="'DejaVu Serif', serif" font-size="26">/MAD=33.5/3.1</text>
</g>
<path d="M929.38 1398.9V1621.05M1052.16 1398.9V1621.05M1174.94 1398.9V1621.05M1297.72 1398.9V1621.05M1420.5 1398.9V1621.05M806.6 1532.04H1445.06M806.6 1438.74H1445.06" stroke="#cccccc" stroke-width="2.7" fill="none"/>
<path d="M806.6 1532.04H1445.06" stroke="#000" stroke-width="3.9" stroke-dasharray="3.9 6.45" fill="none" clip-path="url(#c10)"/>
<path d="M953.94 1509.65 L978.49 1548.83 L1003.05 1506.38 L1027.6 1527.94" stroke="#4270d6" stroke-width="3.9" fill="none" stroke-linejoin="round" stroke-linecap="round" clip-path="url(#c10)"/>
<path d="M1150.38 1538.57 L1174.94 1530.64 L1199.5 1601.08 L1224.05 1576.83 L1248.61 1551.63 L1273.16 1546.04 L1297.72 1413.55 L1322.28 1538.57 L1346.83 1493.32 L1371.39 1462.53 L1395.94 1492.39 L1420.5 1527.38" stroke="#4270d6" stroke-width="3.9" fill="none" stroke-linejoin="round" stroke-linecap="round" clip-path="url(#c10)"/>
<path d="M953.94 1495.65 L978.49 1401.42 L1003.05 1399.55 L1027.6 1352.9" stroke="#ffa500" stroke-width="3.9" fill="none" stroke-linejoin="round" stroke-linecap="round" clip-path="url(#c10)"/>
<path d="M1150.38 1486.32 L1174.94 1356.63 L1199.5 1474.66 L1224.05 1436.87 L1248.61 1403.29 L1273.16 1306.25 L1297.72 1271.73 L1322.28 1344.51 L1346.83 1354.3 L1371.39 1312.78 L1395.94 1280.13 L1420.5 1343.11" stroke="#ffa500" stroke-width="3.9" fill="none" stroke-linejoin="round" stroke-linecap="round" clip-path="url(#c10)"/>
<path d="M953.94 1531.2 L978.49 1555.27 L1003.05 1508.81 L1027.6 1532.88" stroke="#d65f5f" stroke-width="3.9" fill="none" stroke-linejoin="round" stroke-linecap="round" clip-path="url(#c10)"/>
<path d="M1150.38 1546.97 L1174.94 1532.88 L1199.5 1601.74 L1224.05 1577.66 L1248.61 1552.75 L1273.16 1546.97 L1297.72 1414.67 L1322.28 1539.5 L1346.83 1493.88 L1371.39 1463.18 L1395.94 1493.04 L1420.5 1527.94" stroke="#d65f5f" stroke-width="3.9" fill="none" stroke-linejoin="round" stroke-linecap="round" clip-path="url(#c10)"/>
<path d="M831.16 1512.35V1553.41" stroke="#d65f5f" stroke-width="3.1" fill="none" clip-path="url(#c10)"/>
<path d="M822.36 1512.35h17.6M822.36 1553.41h17.6" stroke="#d65f5f" stroke-width="3.5" fill="none" clip-path="url(#c10)"/>
<rect x="825.81" y="1527.53" width="10.7" height="10.7" fill="none" stroke="#d65f5f" stroke-width="3.6" clip-path="url(#c10)"/>
<path d="M880.27 1490.43V1522.15" stroke="#d65f5f" stroke-width="3.1" fill="none" clip-path="url(#c10)"/>
<path d="M871.47 1490.43h17.6M871.47 1522.15h17.6" stroke="#d65f5f" stroke-width="3.5" fill="none" clip-path="url(#c10)"/>
<rect x="874.92" y="1500.94" width="10.7" height="10.7" fill="none" stroke="#d65f5f" stroke-width="3.6" clip-path="url(#c10)"/>
<path d="M953.94 1522.43V1539.97" stroke="#d65f5f" stroke-width="3.1" fill="none" clip-path="url(#c10)"/>
<path d="M945.14 1522.43h17.6M945.14 1539.97h17.6" stroke="#d65f5f" stroke-width="3.5" fill="none" clip-path="url(#c10)"/>
<rect x="948.59" y="1525.85" width="10.7" height="10.7" fill="none" stroke="#d65f5f" stroke-width="3.6" clip-path="url(#c10)"/>
<path d="M978.49 1545.01V1565.54" stroke="#d65f5f" stroke-width="3.1" fill="none" clip-path="url(#c10)"/>
<path d="M969.69 1545.01h17.6M969.69 1565.54h17.6" stroke="#d65f5f" stroke-width="3.5" fill="none" clip-path="url(#c10)"/>
<rect x="973.14" y="1549.92" width="10.7" height="10.7" fill="none" stroke="#d65f5f" stroke-width="3.6" clip-path="url(#c10)"/>
<path d="M1003.05 1462.16V1555.46" stroke="#d65f5f" stroke-width="3.1" fill="none" clip-path="url(#c10)"/>
<path d="M994.25 1462.16h17.6M994.25 1555.46h17.6" stroke="#d65f5f" stroke-width="3.5" fill="none" clip-path="url(#c10)"/>
<rect x="997.7" y="1503.46" width="10.7" height="10.7" fill="none" stroke="#d65f5f" stroke-width="3.6" clip-path="url(#c10)"/>
<path d="M1027.6 1520.75V1545.01" stroke="#d65f5f" stroke-width="3.1" fill="none" clip-path="url(#c10)"/>
<path d="M1018.8 1520.75h17.6M1018.8 1545.01h17.6" stroke="#d65f5f" stroke-width="3.5" fill="none" clip-path="url(#c10)"/>
<rect x="1022.25" y="1527.53" width="10.7" height="10.7" fill="none" stroke="#d65f5f" stroke-width="3.6" clip-path="url(#c10)"/>
<path d="M1150.38 1533.44V1560.5" stroke="#d65f5f" stroke-width="3.1" fill="none" clip-path="url(#c10)"/>
<path d="M1141.58 1533.44h17.6M1141.58 1560.5h17.6" stroke="#d65f5f" stroke-width="3.5" fill="none" clip-path="url(#c10)"/>
<rect x="1145.03" y="1541.62" width="10.7" height="10.7" fill="none" stroke="#d65f5f" stroke-width="3.6" clip-path="url(#c10)"/>
<path d="M1174.94 1520.75V1545.01" stroke="#d65f5f" stroke-width="3.1" fill="none" clip-path="url(#c10)"/>
<path d="M1166.14 1520.75h17.6M1166.14 1545.01h17.6" stroke="#d65f5f" stroke-width="3.5" fill="none" clip-path="url(#c10)"/>
<rect x="1169.59" y="1527.53" width="10.7" height="10.7" fill="none" stroke="#d65f5f" stroke-width="3.6" clip-path="url(#c10)"/>
<path d="M1199.5 1592.97V1610.51" stroke="#d65f5f" stroke-width="3.1" fill="none" clip-path="url(#c10)"/>
<path d="M1190.7 1592.97h17.6M1190.7 1610.51h17.6" stroke="#d65f5f" stroke-width="3.5" fill="none" clip-path="url(#c10)"/>
<rect x="1194.15" y="1596.39" width="10.7" height="10.7" fill="none" stroke="#d65f5f" stroke-width="3.6" clip-path="url(#c10)"/>
<path d="M1224.05 1568.33V1587" stroke="#d65f5f" stroke-width="3.1" fill="none" clip-path="url(#c10)"/>
<path d="M1215.25 1568.33h17.6M1215.25 1587h17.6" stroke="#d65f5f" stroke-width="3.5" fill="none" clip-path="url(#c10)"/>
<rect x="1218.7" y="1572.31" width="10.7" height="10.7" fill="none" stroke="#d65f5f" stroke-width="3.6" clip-path="url(#c10)"/>
<path d="M1248.61 1543.42V1562.08" stroke="#d65f5f" stroke-width="3.1" fill="none" clip-path="url(#c10)"/>
<path d="M1239.81 1543.42h17.6M1239.81 1562.08h17.6" stroke="#d65f5f" stroke-width="3.5" fill="none" clip-path="url(#c10)"/>
<rect x="1243.26" y="1547.4" width="10.7" height="10.7" fill="none" stroke="#d65f5f" stroke-width="3.6" clip-path="url(#c10)"/>
<path d="M1273.16 1535.31V1558.63" stroke="#d65f5f" stroke-width="3.1" fill="none" clip-path="url(#c10)"/>
<path d="M1264.36 1535.31h17.6M1264.36 1558.63h17.6" stroke="#d65f5f" stroke-width="3.5" fill="none" clip-path="url(#c10)"/>
<rect x="1267.81" y="1541.62" width="10.7" height="10.7" fill="none" stroke="#d65f5f" stroke-width="3.6" clip-path="url(#c10)"/>
<path d="M1297.72 1409.07V1420.27" stroke="#d65f5f" stroke-width="3.1" fill="none" clip-path="url(#c10)"/>
<path d="M1288.92 1409.07h17.6M1288.92 1420.27h17.6" stroke="#d65f5f" stroke-width="3.5" fill="none" clip-path="url(#c10)"/>
<rect x="1292.37" y="1409.32" width="10.7" height="10.7" fill="none" stroke="#d65f5f" stroke-width="3.6" clip-path="url(#c10)"/>
<path d="M1322.28 1526.91V1552.1" stroke="#d65f5f" stroke-width="3.1" fill="none" clip-path="url(#c10)"/>
<path d="M1313.48 1526.91h17.6M1313.48 1552.1h17.6" stroke="#d65f5f" stroke-width="3.5" fill="none" clip-path="url(#c10)"/>
<rect x="1316.93" y="1534.15" width="10.7" height="10.7" fill="none" stroke="#d65f5f" stroke-width="3.6" clip-path="url(#c10)"/>
<path d="M1346.83 1484.55V1503.21" stroke="#d65f5f" stroke-width="3.1" fill="none" clip-path="url(#c10)"/>
<path d="M1338.03 1484.55h17.6M1338.03 1503.21h17.6" stroke="#d65f5f" stroke-width="3.5" fill="none" clip-path="url(#c10)"/>
<rect x="1341.48" y="1488.53" width="10.7" height="10.7" fill="none" stroke="#d65f5f" stroke-width="3.6" clip-path="url(#c10)"/>
<path d="M1371.39 1448.91V1477.46" stroke="#d65f5f" stroke-width="3.1" fill="none" clip-path="url(#c10)"/>
<path d="M1362.59 1448.91h17.6M1362.59 1477.46h17.6" stroke="#d65f5f" stroke-width="3.5" fill="none" clip-path="url(#c10)"/>
<rect x="1366.04" y="1457.83" width="10.7" height="10.7" fill="none" stroke="#d65f5f" stroke-width="3.6" clip-path="url(#c10)"/>
<path d="M1395.94 1475.31V1510.77" stroke="#d65f5f" stroke-width="3.1" fill="none" clip-path="url(#c10)"/>
<path d="M1387.14 1475.31h17.6M1387.14 1510.77h17.6" stroke="#d65f5f" stroke-width="3.5" fill="none" clip-path="url(#c10)"/>
<rect x="1390.59" y="1487.69" width="10.7" height="10.7" fill="none" stroke="#d65f5f" stroke-width="3.6" clip-path="url(#c10)"/>
<path d="M1420.5 1520.47V1535.4" stroke="#d65f5f" stroke-width="3.1" fill="none" clip-path="url(#c10)"/>
<path d="M1411.7 1520.47h17.6M1411.7 1535.4h17.6" stroke="#d65f5f" stroke-width="3.5" fill="none" clip-path="url(#c10)"/>
<rect x="1415.15" y="1522.59" width="10.7" height="10.7" fill="none" stroke="#d65f5f" stroke-width="3.6" clip-path="url(#c10)"/>
<path d="M806.6 1621.05v-15.8M831.16 1621.05v-10.5M855.71 1621.05v-10.5M880.27 1621.05v-10.5M904.82 1621.05v-10.5M929.38 1621.05v-15.8M953.94 1621.05v-10.5M978.49 1621.05v-10.5M1003.05 1621.05v-10.5M1027.6 1621.05v-10.5M1052.16 1621.05v-15.8M1076.72 1621.05v-10.5M1101.27 1621.05v-10.5M1125.83 1621.05v-10.5M1150.38 1621.05v-10.5M1174.94 1621.05v-15.8M1199.5 1621.05v-10.5M1224.05 1621.05v-10.5M1248.61 1621.05v-10.5M1273.16 1621.05v-10.5M1297.72 1621.05v-15.8M1322.28 1621.05v-10.5M1346.83 1621.05v-10.5M1371.39 1621.05v-10.5M1395.94 1621.05v-10.5M1420.5 1621.05v-15.8M1445.06 1621.05v-10.5M806.6 1532.04h15.8M806.6 1438.74h15.8M806.6 1606.68h10.5M806.6 1588.02h10.5M806.6 1569.36h10.5M806.6 1550.7h10.5M806.6 1513.38h10.5M806.6 1494.72h10.5M806.6 1476.06h10.5M806.6 1457.4h10.5M806.6 1420.08h10.5M806.6 1401.42h10.5" stroke="#262626" stroke-width="2.6" fill="none"/>
<rect x="806.6" y="1398.9" width="638.46" height="222.15" fill="none" stroke="#262626" stroke-width="2.8"/>
<g font-family="'DejaVu Serif', serif" font-size="28.6" fill="#262626"><text x="806.6" y="1648.55" text-anchor="middle">5</text><text x="929.38" y="1648.55" text-anchor="middle">10</text><text x="1052.16" y="1648.55" text-anchor="middle">15</text><text x="1174.94" y="1648.55" text-anchor="middle">20</text><text x="1297.72" y="1648.55" text-anchor="middle">25</text><text x="1420.5" y="1648.55" text-anchor="middle">30</text><text x="800.8" y="1542.74" text-anchor="end">0</text><text x="800.8" y="1449.44" text-anchor="end">1</text></g>
<path d="M1650.98 840.1V1341.8M1773.76 840.1V1341.8M1896.54 840.1V1341.8M2019.32 840.1V1341.8M2142.1 840.1V1341.8M1528.2 1198.46H2166.66M1528.2 1055.11H2166.66M1528.2 911.77H2166.66" stroke="#cccccc" stroke-width="2.7" fill="none"/>
<path d="M1552.76 1159.75 L1577.31 1833.47 L1601.87 1068.02 L1626.42 1789.03 L1650.98 1132.52 L1675.54 1321.45 L1700.09 1060.85 L1724.65 1245.76 L1749.2 971.98 L1773.76 1271.56 L1798.32 957.64 L1822.87 1290.2 L1847.43 963.37 L1871.98 1325.75 L1896.54 986.31 L1921.1 1319.44 L1945.65 1052.25 L1970.21 1133.95 L1994.76 992.04 L2019.32 1087.37 L2043.88 956.21 L2068.43 1061.56 L2092.99 973.41 L2117.54 1265.11 L2142.1 1163.48 L2166.66 1520.98" stroke="#4270d6" stroke-width="1.9" fill="none" stroke-linejoin="round" stroke-linecap="round" clip-path="url(#c11)"/>
<path d="M1552.76 1159.75 L1577.31 1105.28 L1601.87 1072.32 L1626.42 1237.16 L1650.98 1237.16 L1675.54 1252.07 L1700.09 1188.85 L1724.65 1230.71 L1749.2 1229.99 L1773.76 1237.16 L1798.32 1237.16 L1822.87 1237.16 L1847.43 1237.16 L1871.98 1219.96 L1896.54 1199.32 L1921.1 1238.16 L1945.65 1187.85 L1970.21 1243.32 L1994.76 1318.72 L2019.32 1307.4 L2043.88 1237.59 L2068.43 1193.01 L2092.99 1208.49 L2117.54 1305.96 L2142.1 1187.56 L2166.66 1232.86" stroke="#ffa500" stroke-width="1.9" fill="none" stroke-linejoin="round" stroke-linecap="round" clip-path="url(#c11)"/>
<path d="M1552.76 1117.76 L1577.31 1103.85 L1601.87 1028.31 L1626.42 1237.16 L1650.98 1121.77 L1675.54 1235.58 L1700.09 1039.78 L1724.65 1194.59 L1749.2 954.2 L1773.76 1208.49 L1798.32 947.61 L1822.87 1215.66 L1847.43 956.21 L1871.98 1200.75 L1896.54 967.39 L1921.1 1220.1 L1945.65 1041.78 L1970.21 1124.49 L1994.76 981.44 L2019.32 1085.5 L2043.88 952.91 L2068.43 1058.98 L2092.99 961.51 L2117.54 1237.59 L2142.1 1128.79 L2166.66 1225.69" stroke="#000000" stroke-width="2.1" fill="none" stroke-linejoin="round" stroke-linecap="round" clip-path="url(#c11)"/>
<path d="M1552.76 1093.82V1156.89" stroke="#d65f5f" stroke-width="3.1" fill="none" clip-path="url(#c11)"/>
<path d="M1543.96 1093.82h17.6M1543.96 1156.89h17.6" stroke="#d65f5f" stroke-width="3.5" fill="none" clip-path="url(#c11)"/>
<rect x="1547.41" y="1120" width="10.7" height="10.7" fill="none" stroke="#d65f5f" stroke-width="3.6" clip-path="url(#c11)"/>
<path d="M1601.87 964.81V1013.54" stroke="#d65f5f" stroke-width="3.1" fill="none" clip-path="url(#c11)"/>
<path d="M1593.07 964.81h17.6M1593.07 1013.54h17.6" stroke="#d65f5f" stroke-width="3.5" fill="none" clip-path="url(#c11)"/>
<rect x="1596.52" y="983.83" width="10.7" height="10.7" fill="none" stroke="#d65f5f" stroke-width="3.6" clip-path="url(#c11)"/>
<path d="M1675.54 1255.22V1282.17" stroke="#d65f5f" stroke-width="3.1" fill="none" clip-path="url(#c11)"/>
<path d="M1666.74 1255.22h17.6M1666.74 1282.17h17.6" stroke="#d65f5f" stroke-width="3.5" fill="none" clip-path="url(#c11)"/>
<rect x="1670.19" y="1263.35" width="10.7" height="10.7" fill="none" stroke="#d65f5f" stroke-width="3.6" clip-path="url(#c11)"/>
<path d="M1700.09 1043.65V1075.18" stroke="#d65f5f" stroke-width="3.1" fill="none" clip-path="url(#c11)"/>
<path d="M1691.29 1043.65h17.6M1691.29 1075.18h17.6" stroke="#d65f5f" stroke-width="3.5" fill="none" clip-path="url(#c11)"/>
<rect x="1694.74" y="1054.06" width="10.7" height="10.7" fill="none" stroke="#d65f5f" stroke-width="3.6" clip-path="url(#c11)"/>
<path d="M1724.65 1023.58V1166.92" stroke="#d65f5f" stroke-width="3.1" fill="none" clip-path="url(#c11)"/>
<path d="M1715.85 1023.58h17.6M1715.85 1166.92h17.6" stroke="#d65f5f" stroke-width="3.5" fill="none" clip-path="url(#c11)"/>
<rect x="1719.3" y="1089.9" width="10.7" height="10.7" fill="none" stroke="#d65f5f" stroke-width="3.6" clip-path="url(#c11)"/>
<path d="M1749.2 1006.38V1043.65" stroke="#d65f5f" stroke-width="3.1" fill="none" clip-path="url(#c11)"/>
<path d="M1740.4 1006.38h17.6M1740.4 1043.65h17.6" stroke="#d65f5f" stroke-width="3.5" fill="none" clip-path="url(#c11)"/>
<rect x="1743.85" y="1019.66" width="10.7" height="10.7" fill="none" stroke="#d65f5f" stroke-width="3.6" clip-path="url(#c11)"/>
<path d="M1871.98 1190.57V1232.14" stroke="#d65f5f" stroke-width="3.1" fill="none" clip-path="url(#c11)"/>
<path d="M1863.18 1190.57h17.6M1863.18 1232.14h17.6" stroke="#d65f5f" stroke-width="3.5" fill="none" clip-path="url(#c11)"/>
<rect x="1866.63" y="1206.01" width="10.7" height="10.7" fill="none" stroke="#d65f5f" stroke-width="3.6" clip-path="url(#c11)"/>
<path d="M1896.54 984.88V1022.15" stroke="#d65f5f" stroke-width="3.1" fill="none" clip-path="url(#c11)"/>
<path d="M1887.74 984.88h17.6M1887.74 1022.15h17.6" stroke="#d65f5f" stroke-width="3.5" fill="none" clip-path="url(#c11)"/>
<rect x="1891.19" y="998.16" width="10.7" height="10.7" fill="none" stroke="#d65f5f" stroke-width="3.6" clip-path="url(#c11)"/>
<path d="M1921.1 1203.62V1230.57" stroke="#d65f5f" stroke-width="3.1" fill="none" clip-path="url(#c11)"/>
<path d="M1912.3 1203.62h17.6M1912.3 1230.57h17.6" stroke="#d65f5f" stroke-width="3.5" fill="none" clip-path="url(#c11)"/>
<rect x="1915.75" y="1211.74" width="10.7" height="10.7" fill="none" stroke="#d65f5f" stroke-width="3.6" clip-path="url(#c11)"/>
<path d="M1945.65 1095.25V1123.92" stroke="#d65f5f" stroke-width="3.1" fill="none" clip-path="url(#c11)"/>
<path d="M1936.85 1095.25h17.6M1936.85 1123.92h17.6" stroke="#d65f5f" stroke-width="3.5" fill="none" clip-path="url(#c11)"/>
<rect x="1940.3" y="1104.23" width="10.7" height="10.7" fill="none" stroke="#d65f5f" stroke-width="3.6" clip-path="url(#c11)"/>
<path d="M1970.21 1099.55V1128.22" stroke="#d65f5f" stroke-width="3.1" fill="none" clip-path="url(#c11)"/>
<path d="M1961.41 1099.55h17.6M1961.41 1128.22h17.6" stroke="#d65f5f" stroke-width="3.5" fill="none" clip-path="url(#c11)"/>
<rect x="1964.86" y="1108.53" width="10.7" height="10.7" fill="none" stroke="#d65f5f" stroke-width="3.6" clip-path="url(#c11)"/>
<path d="M1994.76 1035.76V1071.6" stroke="#d65f5f" stroke-width="3.1" fill="none" clip-path="url(#c11)"/>
<path d="M1985.96 1035.76h17.6M1985.96 1071.6h17.6" stroke="#d65f5f" stroke-width="3.5" fill="none" clip-path="url(#c11)"/>
<rect x="1989.41" y="1048.33" width="10.7" height="10.7" fill="none" stroke="#d65f5f" stroke-width="3.6" clip-path="url(#c11)"/>
<path d="M2019.32 969.11V986.31" stroke="#d65f5f" stroke-width="3.1" fill="none" clip-path="url(#c11)"/>
<path d="M2010.52 969.11h17.6M2010.52 986.31h17.6" stroke="#d65f5f" stroke-width="3.5" fill="none" clip-path="url(#c11)"/>
<rect x="2013.97" y="972.36" width="10.7" height="10.7" fill="none" stroke="#d65f5f" stroke-width="3.6" clip-path="url(#c11)"/>
<path d="M2043.88 1001.36V1040.06" stroke="#d65f5f" stroke-width="3.1" fill="none" clip-path="url(#c11)"/>
<path d="M2035.08 1001.36h17.6M2035.08 1040.06h17.6" stroke="#d65f5f" stroke-width="3.5" fill="none" clip-path="url(#c11)"/>
<rect x="2038.53" y="1015.36" width="10.7" height="10.7" fill="none" stroke="#d65f5f" stroke-width="3.6" clip-path="url(#c11)"/>
<path d="M2068.43 979.86V1008.53" stroke="#d65f5f" stroke-width="3.1" fill="none" clip-path="url(#c11)"/>
<path d="M2059.63 979.86h17.6M2059.63 1008.53h17.6" stroke="#d65f5f" stroke-width="3.5" fill="none" clip-path="url(#c11)"/>
<rect x="2063.08" y="988.84" width="10.7" height="10.7" fill="none" stroke="#d65f5f" stroke-width="3.6" clip-path="url(#c11)"/>
<path d="M2092.99 918.51V962.37" stroke="#d65f5f" stroke-width="3.1" fill="none" clip-path="url(#c11)"/>
<path d="M2084.19 918.51h17.6M2084.19 962.37h17.6" stroke="#d65f5f" stroke-width="3.5" fill="none" clip-path="url(#c11)"/>
<rect x="2087.64" y="935.09" width="10.7" height="10.7" fill="none" stroke="#d65f5f" stroke-width="3.6" clip-path="url(#c11)"/>
<path d="M2117.54 963.37V1017.85" stroke="#d65f5f" stroke-width="3.1" fill="none" clip-path="url(#c11)"/>
<path d="M2108.74 963.37h17.6M2108.74 1017.85h17.6" stroke="#d65f5f" stroke-width="3.5" fill="none" clip-path="url(#c11)"/>
<rect x="2112.19" y="985.26" width="10.7" height="10.7" fill="none" stroke="#d65f5f" stroke-width="3.6" clip-path="url(#c11)"/>
<path d="M2142.1 956.21V979.14" stroke="#d65f5f" stroke-width="3.1" fill="none" clip-path="url(#c11)"/>
<path d="M2133.3 956.21h17.6M2133.3 979.14h17.6" stroke="#d65f5f" stroke-width="3.5" fill="none" clip-path="url(#c11)"/>
<rect x="2136.75" y="962.33" width="10.7" height="10.7" fill="none" stroke="#d65f5f" stroke-width="3.6" clip-path="url(#c11)"/>
<path d="M1577.31 1143.99V1158.46" stroke="#d65f5f" stroke-width="3.1" fill="none"/>
<path d="M1568.51 1143.99h17.6" stroke="#d65f5f" stroke-width="3.5" fill="none"/>
<path d="M1567.91 1158.46L1586.71 1158.46L1577.31 1173.46Z" fill="#d65f5f" stroke="#d65f5f" stroke-width="1" stroke-linejoin="miter"/>
<path d="M1528.2 1341.8v-15.8M1552.76 1341.8v-10.5M1577.31 1341.8v-10.5M1601.87 1341.8v-10.5M1626.42 1341.8v-10.5M1650.98 1341.8v-15.8M1675.54 1341.8v-10.5M1700.09 1341.8v-10.5M1724.65 1341.8v-10.5M1749.2 1341.8v-10.5M1773.76 1341.8v-15.8M1798.32 1341.8v-10.5M1822.87 1341.8v-10.5M1847.43 1341.8v-10.5M1871.98 1341.8v-10.5M1896.54 1341.8v-15.8M1921.1 1341.8v-10.5M1945.65 1341.8v-10.5M1970.21 1341.8v-10.5M1994.76 1341.8v-10.5M2019.32 1341.8v-15.8M2043.88 1341.8v-10.5M2068.43 1341.8v-10.5M2092.99 1341.8v-10.5M2117.54 1341.8v-10.5M2142.1 1341.8v-15.8M2166.66 1341.8v-10.5M1528.2 1341.8h15.8M1528.2 1198.46h15.8M1528.2 1055.11h15.8M1528.2 911.77h15.8M1528.2 1341.8h10.5M1528.2 1270.13h10.5M1528.2 1198.46h10.5M1528.2 1126.79h10.5M1528.2 1055.11h10.5M1528.2 983.44h10.5M1528.2 911.77h10.5M1528.2 840.1h10.5" stroke="#262626" stroke-width="2.6" fill="none"/>
<rect x="1528.2" y="840.1" width="638.46" height="501.7" fill="none" stroke="#262626" stroke-width="2.8"/>
<g font-family="'DejaVu Serif', serif" font-size="28.6" fill="#262626"><text x="1528.2" y="1369.3" text-anchor="middle">5</text><text x="1650.98" y="1369.3" text-anchor="middle">10</text><text x="1773.76" y="1369.3" text-anchor="middle">15</text><text x="1896.54" y="1369.3" text-anchor="middle">20</text><text x="2019.32" y="1369.3" text-anchor="middle">25</text><text x="2142.1" y="1369.3" text-anchor="middle">30</text><text x="1522.4" y="1352.5" text-anchor="end">−4</text><text x="1522.4" y="1209.16" text-anchor="end">−3</text><text x="1522.4" y="1065.81" text-anchor="end">−2</text><text x="1522.4" y="922.47" text-anchor="end">−1</text></g>
<rect x="1541.6" y="853.4" width="309.83" height="83.7" rx="5.2" ry="5.2" fill="#ffffff" fill-opacity="0.8" stroke="#cccccc" stroke-opacity="0.8" stroke-width="2.2"/>
<path d="M1550.4 874H1604.2" stroke="#4270d6" stroke-width="2.0"/>
<path d="M1550.4 912.1H1604.2" stroke="#ffa500" stroke-width="2.0"/>
<g font-family="'DejaVu Serif', serif" font-size="26.0" fill="#262626"><text x="1623.6" y="883.3">PI HW02 M260</text><text x="1623.6" y="921.5">ISM [Fe/H]=-3.5</text></g>
<g fill="#262626">
<text x="1925.66" y="868.7" font-family="'DejaVu Sans', sans-serif" font-style="italic" font-size="26">χ</text>
<text x="1943.16" y="859.4" font-family="'DejaVu Sans', sans-serif" font-size="18.6">2</text>
<text x="1940.86" y="875.6" font-family="'DejaVu Sans', sans-serif" font-style="italic" font-size="18.6">r</text>
<text x="1954.66" y="868.7" font-family="'DejaVu Serif', serif" font-size="26">/MAD=30.5/3.8</text>
</g>
<path d="M1650.98 1398.9V1621.05M1773.76 1398.9V1621.05M1896.54 1398.9V1621.05M2019.32 1398.9V1621.05M2142.1 1398.9V1621.05M1528.2 1561.07H2166.66M1528.2 1482.04H2166.66M1528.2 1403.01H2166.66" stroke="#cccccc" stroke-width="2.7" fill="none"/>
<path d="M1528.2 1561.07H2166.66" stroke="#000" stroke-width="3.9" stroke-dasharray="3.9 6.45" fill="none" clip-path="url(#c12)"/>
<path d="M1675.54 1531.98 L1700.09 1560.28 L1724.65 1478.09 L1749.2 1590.31" stroke="#4270d6" stroke-width="3.9" fill="none" stroke-linejoin="round" stroke-linecap="round" clip-path="url(#c12)"/>
<path d="M1871.98 1498 L1896.54 1570.55 L1921.1 1504.64 L1945.65 1592.68 L1970.21 1550 L1994.76 1595.05 L2019.32 1500.61 L2043.88 1596.63 L2068.43 1523.92 L2092.99 1542.89 L2117.54 1409.73 L2142.1 1453.11" stroke="#4270d6" stroke-width="3.9" fill="none" stroke-linejoin="round" stroke-linecap="round" clip-path="url(#c12)"/>
<path d="M1675.54 1570.23 L1700.09 1489.7 L1724.65 1486.38 L1749.2 1448.06" stroke="#ffa500" stroke-width="3.9" fill="none" stroke-linejoin="round" stroke-linecap="round" clip-path="url(#c12)"/>
<path d="M1871.98 1556.33 L1896.54 1453.11 L1921.1 1549.45 L1945.65 1517.92 L1970.21 1489.7 L1994.76 1414.94 L2019.32 1379.3 L2043.88 1441.5 L2068.43 1451.45 L2092.99 1413.28 L2117.54 1387.2 L2142.1 1439.84" stroke="#ffa500" stroke-width="3.9" fill="none" stroke-linejoin="round" stroke-linecap="round" clip-path="url(#c12)"/>
<path d="M1675.54 1579.32 L1700.09 1571.89 L1724.65 1506.3 L1749.2 1600.11" stroke="#d65f5f" stroke-width="3.9" fill="none" stroke-linejoin="round" stroke-linecap="round" clip-path="url(#c12)"/>
<path d="M1871.98 1566.92 L1896.54 1580.98 L1921.1 1559.41 L1945.65 1598.45 L1970.21 1555.22 L1994.76 1600.9 L2019.32 1501.64 L2043.88 1598.45 L2068.43 1525.35 L2092.99 1549.45 L2117.54 1424.9 L2142.1 1472.24" stroke="#d65f5f" stroke-width="3.9" fill="none" stroke-linejoin="round" stroke-linecap="round" clip-path="url(#c12)"/>
<path d="M1552.76 1547.87V1582.64" stroke="#d65f5f" stroke-width="3.1" fill="none" clip-path="url(#c12)"/>
<path d="M1543.96 1547.87h17.6M1543.96 1582.64h17.6" stroke="#d65f5f" stroke-width="3.5" fill="none" clip-path="url(#c12)"/>
<rect x="1547.41" y="1559.91" width="10.7" height="10.7" fill="none" stroke="#d65f5f" stroke-width="3.6" clip-path="url(#c12)"/>
<path d="M1601.87 1526.06V1552.93" stroke="#d65f5f" stroke-width="3.1" fill="none" clip-path="url(#c12)"/>
<path d="M1593.07 1526.06h17.6M1593.07 1552.93h17.6" stroke="#d65f5f" stroke-width="3.5" fill="none" clip-path="url(#c12)"/>
<rect x="1596.52" y="1534.14" width="10.7" height="10.7" fill="none" stroke="#d65f5f" stroke-width="3.6" clip-path="url(#c12)"/>
<path d="M1675.54 1571.89V1586.75" stroke="#d65f5f" stroke-width="3.1" fill="none" clip-path="url(#c12)"/>
<path d="M1666.74 1571.89h17.6M1666.74 1586.75h17.6" stroke="#d65f5f" stroke-width="3.5" fill="none" clip-path="url(#c12)"/>
<rect x="1670.19" y="1573.97" width="10.7" height="10.7" fill="none" stroke="#d65f5f" stroke-width="3.6" clip-path="url(#c12)"/>
<path d="M1700.09 1563.2V1580.59" stroke="#d65f5f" stroke-width="3.1" fill="none" clip-path="url(#c12)"/>
<path d="M1691.29 1563.2h17.6M1691.29 1580.59h17.6" stroke="#d65f5f" stroke-width="3.5" fill="none" clip-path="url(#c12)"/>
<rect x="1694.74" y="1566.54" width="10.7" height="10.7" fill="none" stroke="#d65f5f" stroke-width="3.6" clip-path="url(#c12)"/>
<path d="M1724.65 1466.79V1545.81" stroke="#d65f5f" stroke-width="3.1" fill="none" clip-path="url(#c12)"/>
<path d="M1715.85 1466.79h17.6M1715.85 1545.81h17.6" stroke="#d65f5f" stroke-width="3.5" fill="none" clip-path="url(#c12)"/>
<rect x="1719.3" y="1500.95" width="10.7" height="10.7" fill="none" stroke="#d65f5f" stroke-width="3.6" clip-path="url(#c12)"/>
<path d="M1749.2 1589.83V1610.38" stroke="#d65f5f" stroke-width="3.1" fill="none" clip-path="url(#c12)"/>
<path d="M1740.4 1589.83h17.6M1740.4 1610.38h17.6" stroke="#d65f5f" stroke-width="3.5" fill="none" clip-path="url(#c12)"/>
<rect x="1743.85" y="1594.76" width="10.7" height="10.7" fill="none" stroke="#d65f5f" stroke-width="3.6" clip-path="url(#c12)"/>
<path d="M1871.98 1555.46V1578.37" stroke="#d65f5f" stroke-width="3.1" fill="none" clip-path="url(#c12)"/>
<path d="M1863.18 1555.46h17.6M1863.18 1578.37h17.6" stroke="#d65f5f" stroke-width="3.5" fill="none" clip-path="url(#c12)"/>
<rect x="1866.63" y="1561.57" width="10.7" height="10.7" fill="none" stroke="#d65f5f" stroke-width="3.6" clip-path="url(#c12)"/>
<path d="M1896.54 1570.71V1591.26" stroke="#d65f5f" stroke-width="3.1" fill="none" clip-path="url(#c12)"/>
<path d="M1887.74 1570.71h17.6M1887.74 1591.26h17.6" stroke="#d65f5f" stroke-width="3.5" fill="none" clip-path="url(#c12)"/>
<rect x="1891.19" y="1575.63" width="10.7" height="10.7" fill="none" stroke="#d65f5f" stroke-width="3.6" clip-path="url(#c12)"/>
<path d="M1921.1 1551.98V1566.84" stroke="#d65f5f" stroke-width="3.1" fill="none" clip-path="url(#c12)"/>
<path d="M1912.3 1551.98h17.6M1912.3 1566.84h17.6" stroke="#d65f5f" stroke-width="3.5" fill="none" clip-path="url(#c12)"/>
<rect x="1915.75" y="1554.06" width="10.7" height="10.7" fill="none" stroke="#d65f5f" stroke-width="3.6" clip-path="url(#c12)"/>
<path d="M1945.65 1590.54V1606.35" stroke="#d65f5f" stroke-width="3.1" fill="none" clip-path="url(#c12)"/>
<path d="M1936.85 1590.54h17.6M1936.85 1606.35h17.6" stroke="#d65f5f" stroke-width="3.5" fill="none" clip-path="url(#c12)"/>
<rect x="1940.3" y="1593.1" width="10.7" height="10.7" fill="none" stroke="#d65f5f" stroke-width="3.6" clip-path="url(#c12)"/>
<path d="M1970.21 1547.32V1563.12" stroke="#d65f5f" stroke-width="3.1" fill="none" clip-path="url(#c12)"/>
<path d="M1961.41 1547.32h17.6M1961.41 1563.12h17.6" stroke="#d65f5f" stroke-width="3.5" fill="none" clip-path="url(#c12)"/>
<rect x="1964.86" y="1549.87" width="10.7" height="10.7" fill="none" stroke="#d65f5f" stroke-width="3.6" clip-path="url(#c12)"/>
<path d="M1994.76 1591.02V1610.78" stroke="#d65f5f" stroke-width="3.1" fill="none" clip-path="url(#c12)"/>
<path d="M1985.96 1591.02h17.6M1985.96 1610.78h17.6" stroke="#d65f5f" stroke-width="3.5" fill="none" clip-path="url(#c12)"/>
<rect x="1989.41" y="1595.55" width="10.7" height="10.7" fill="none" stroke="#d65f5f" stroke-width="3.6" clip-path="url(#c12)"/>
<path d="M2019.32 1496.9V1506.38" stroke="#d65f5f" stroke-width="3.1" fill="none" clip-path="url(#c12)"/>
<path d="M2010.52 1496.9h17.6M2010.52 1506.38h17.6" stroke="#d65f5f" stroke-width="3.5" fill="none" clip-path="url(#c12)"/>
<rect x="2013.97" y="1496.29" width="10.7" height="10.7" fill="none" stroke="#d65f5f" stroke-width="3.6" clip-path="url(#c12)"/>
<path d="M2043.88 1587.78V1609.12" stroke="#d65f5f" stroke-width="3.1" fill="none" clip-path="url(#c12)"/>
<path d="M2035.08 1587.78h17.6M2035.08 1609.12h17.6" stroke="#d65f5f" stroke-width="3.5" fill="none" clip-path="url(#c12)"/>
<rect x="2038.53" y="1593.1" width="10.7" height="10.7" fill="none" stroke="#d65f5f" stroke-width="3.6" clip-path="url(#c12)"/>
<path d="M2068.43 1517.44V1533.25" stroke="#d65f5f" stroke-width="3.1" fill="none" clip-path="url(#c12)"/>
<path d="M2059.63 1517.44h17.6M2059.63 1533.25h17.6" stroke="#d65f5f" stroke-width="3.5" fill="none" clip-path="url(#c12)"/>
<rect x="2063.08" y="1520" width="10.7" height="10.7" fill="none" stroke="#d65f5f" stroke-width="3.6" clip-path="url(#c12)"/>
<path d="M2092.99 1537.36V1561.54" stroke="#d65f5f" stroke-width="3.1" fill="none" clip-path="url(#c12)"/>
<path d="M2084.19 1537.36h17.6M2084.19 1561.54h17.6" stroke="#d65f5f" stroke-width="3.5" fill="none" clip-path="url(#c12)"/>
<rect x="2087.64" y="1544.1" width="10.7" height="10.7" fill="none" stroke="#d65f5f" stroke-width="3.6" clip-path="url(#c12)"/>
<path d="M2117.54 1409.89V1439.92" stroke="#d65f5f" stroke-width="3.1" fill="none" clip-path="url(#c12)"/>
<path d="M2108.74 1409.89h17.6M2108.74 1439.92h17.6" stroke="#d65f5f" stroke-width="3.5" fill="none" clip-path="url(#c12)"/>
<rect x="2112.19" y="1419.55" width="10.7" height="10.7" fill="none" stroke="#d65f5f" stroke-width="3.6" clip-path="url(#c12)"/>
<path d="M2142.1 1465.92V1478.56" stroke="#d65f5f" stroke-width="3.1" fill="none" clip-path="url(#c12)"/>
<path d="M2133.3 1465.92h17.6M2133.3 1478.56h17.6" stroke="#d65f5f" stroke-width="3.5" fill="none" clip-path="url(#c12)"/>
<rect x="2136.75" y="1466.89" width="10.7" height="10.7" fill="none" stroke="#d65f5f" stroke-width="3.6" clip-path="url(#c12)"/>
<path d="M1528.2 1621.05v-15.8M1552.76 1621.05v-10.5M1577.31 1621.05v-10.5M1601.87 1621.05v-10.5M1626.42 1621.05v-10.5M1650.98 1621.05v-15.8M1675.54 1621.05v-10.5M1700.09 1621.05v-10.5M1724.65 1621.05v-10.5M1749.2 1621.05v-10.5M1773.76 1621.05v-15.8M1798.32 1621.05v-10.5M1822.87 1621.05v-10.5M1847.43 1621.05v-10.5M1871.98 1621.05v-10.5M1896.54 1621.05v-15.8M1921.1 1621.05v-10.5M1945.65 1621.05v-10.5M1970.21 1621.05v-10.5M1994.76 1621.05v-10.5M2019.32 1621.05v-15.8M2043.88 1621.05v-10.5M2068.43 1621.05v-10.5M2092.99 1621.05v-10.5M2117.54 1621.05v-10.5M2142.1 1621.05v-15.8M2166.66 1621.05v-10.5M1528.2 1561.07h15.8M1528.2 1482.04h15.8M1528.2 1403.01h15.8M1528.2 1608.48h10.5M1528.2 1592.68h10.5M1528.2 1576.87h10.5M1528.2 1545.26h10.5M1528.2 1529.46h10.5M1528.2 1513.65h10.5M1528.2 1497.84h10.5M1528.2 1466.23h10.5M1528.2 1450.43h10.5M1528.2 1434.62h10.5M1528.2 1418.82h10.5" stroke="#262626" stroke-width="2.6" fill="none"/>
<rect x="1528.2" y="1398.9" width="638.46" height="222.15" fill="none" stroke="#262626" stroke-width="2.8"/>
<g font-family="'DejaVu Serif', serif" font-size="28.6" fill="#262626"><text x="1528.2" y="1648.55" text-anchor="middle">5</text><text x="1650.98" y="1648.55" text-anchor="middle">10</text><text x="1773.76" y="1648.55" text-anchor="middle">15</text><text x="1896.54" y="1648.55" text-anchor="middle">20</text><text x="2019.32" y="1648.55" text-anchor="middle">25</text><text x="2142.1" y="1648.55" text-anchor="middle">30</text><text x="1522.4" y="1571.77" text-anchor="end">0</text><text x="1522.4" y="1492.74" text-anchor="end">1</text><text x="1522.4" y="1413.71" text-anchor="end">2</text></g>
<g font-family="'DejaVu Serif', serif" font-size="31.2" fill="#262626"><text x="404.33" y="1685.1" text-anchor="middle">Atomic Number (Z)</text><text x="1125.83" y="1685.1" text-anchor="middle">Atomic Number (Z)</text><text x="1847.43" y="1685.1" text-anchor="middle">Atomic Number (Z)</text><text transform="translate(23.6 252.85) rotate(-90)" text-anchor="middle">[X/H]</text><text transform="translate(47.7 671.88) rotate(-90)" text-anchor="middle">data-model</text><text transform="translate(23.6 1090.95) rotate(-90)" text-anchor="middle">[X/H]</text><text transform="translate(24.2 1509.98) rotate(-90)" text-anchor="middle">data-model</text></g></svg>
</body></html>
